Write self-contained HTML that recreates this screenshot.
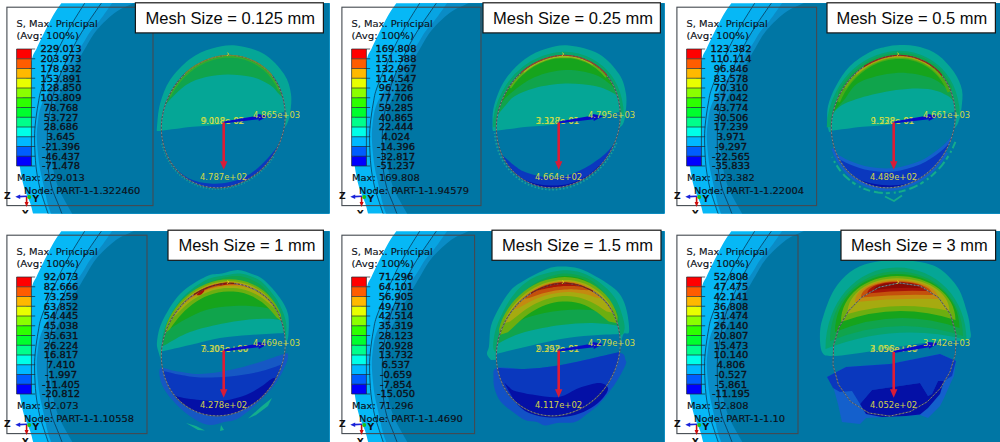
<!DOCTYPE html><html><head><meta charset="utf-8"><title>Mesh size study</title>
<style>html,body{margin:0;padding:0;background:#fff}svg{display:block}</style></head><body>
<svg width="1000" height="442" viewBox="0 0 1000 442">
<rect width="1000" height="442" fill="#fff"/>
<defs><clipPath id="cp"><rect x="0" y="3.2" width="329.45" height="210.4"/></clipPath><clipPath id="cp3"><rect x="0" y="3.2" width="331" height="210.4"/></clipPath><clipPath id="cpb"><rect x="0" y="3.2" width="329.45" height="213"/></clipPath><clipPath id="cpb3"><rect x="0" y="3.2" width="331" height="213"/></clipPath></defs>
<g transform="translate(0 0)">
<g clip-path="url(#cp)">
<path d="M63.5 -2.0 C63.1 -1.2 63.0 0.2 61.4 2.9 C59.8 5.6 57.0 8.8 54.0 14.0 C51.0 19.2 46.4 28.2 43.5 34.0 C40.6 39.8 38.2 45.2 36.4 49.0 C34.6 52.8 34.2 51.8 32.5 57.0 C30.8 62.2 27.9 71.8 26.0 80.0 C24.1 88.2 22.5 97.7 21.3 106.0 C20.1 114.3 19.4 123.5 19.0 130.0 C18.6 136.5 18.5 138.9 18.6 145.0 C18.7 151.1 18.9 159.6 19.8 166.6 C20.7 173.6 22.3 181.0 24.0 187.0 C25.7 193.0 28.5 198.2 30.0 202.6 C31.5 207.0 32.2 210.8 33.0 213.4 C33.8 216.0 34.2 217.2 34.5 218.0 L334.6 218 L334.6 -2 Z" fill="#06B8F6"/>
<path d="M87.5 -2.0 C87.0 -1.2 87.7 -1.9 84.8 2.9 C81.9 7.7 74.5 19.1 70.0 27.0 C65.5 34.9 62.6 40.2 58.0 50.0 C53.4 59.8 45.9 77.2 42.6 86.0 C39.3 94.8 39.5 96.5 38.3 103.0 C37.1 109.5 35.8 118.5 35.2 125.0 C34.6 131.5 34.5 135.1 34.6 142.0 C34.7 148.9 35.2 159.1 36.0 166.6 C36.8 174.1 38.2 181.0 39.6 187.0 C41.0 193.0 43.0 198.2 44.4 202.6 C45.8 207.0 47.1 210.8 48.0 213.4 C48.9 216.0 49.2 217.2 49.5 218.0 L334.6 218 L334.6 -2 Z" fill="#06B0F0"/>
<path d="M104.6 -2.0 C104.1 -1.2 104.8 -1.9 101.5 2.9 C98.2 7.7 89.8 19.5 85.0 27.0 C80.2 34.5 77.3 39.2 72.8 48.0 C68.3 56.8 61.5 70.8 58.0 80.0 C54.5 89.2 53.2 95.5 51.5 103.0 C49.8 110.5 48.7 118.5 48.0 125.0 C47.3 131.5 47.3 135.1 47.3 142.0 C47.3 148.9 47.3 159.1 48.0 166.6 C48.7 174.1 50.0 181.0 51.6 187.0 C53.2 193.0 55.9 198.2 57.6 202.6 C59.3 207.0 60.8 210.8 61.8 213.4 C62.8 216.0 63.2 217.2 63.5 218.0 L334.6 218 L334.6 -2 Z" fill="#08A4E2"/>
<path d="M116.0 -2.0 C115.3 -1.1 114.7 -0.5 112.0 3.2 C109.3 6.9 103.7 15.2 100.0 20.0 C96.3 24.8 93.0 27.8 90.0 32.0 C87.0 36.2 85.8 39.3 82.0 45.0 C78.2 50.7 72.2 58.8 67.0 66.0 C61.8 73.2 55.3 81.3 51.0 88.0 C46.7 94.7 43.2 99.8 41.0 106.0 C38.8 112.2 38.2 119.0 37.5 125.0 C36.8 131.0 36.6 135.1 37.0 142.0 C37.4 148.9 38.4 159.1 39.6 166.6 C40.8 174.1 42.6 180.6 44.0 187.0 C45.4 193.4 46.8 200.6 48.0 205.0 C49.2 209.4 50.2 211.2 51.0 213.4 C51.8 215.6 52.2 217.2 52.5 218.0 L334.6 218 L334.6 -2 Z" fill="#0A8CC6"/>
<path d="M140.0 -2.0 C139.0 -1.2 138.0 0.6 134.0 2.9 C130.0 5.2 122.2 7.5 116.0 12.0 C109.8 16.5 101.9 24.0 96.8 30.0 C91.7 36.0 90.4 39.7 85.4 48.0 C80.4 56.3 72.2 70.3 67.0 80.0 C61.8 89.7 56.8 98.5 54.0 106.0 C51.2 113.5 51.2 119.0 50.5 125.0 C49.8 131.0 49.6 135.1 50.0 142.0 C50.4 148.9 51.5 159.1 52.8 166.6 C54.1 174.1 55.6 180.6 58.0 187.0 C60.4 193.4 64.9 200.6 67.2 205.0 C69.5 209.4 70.8 211.2 72.0 213.4 C73.2 215.6 74.1 217.2 74.5 218.0 L334.6 218 L334.6 -2 Z" fill="#0076A4"/>
<path d="M87.5 -2.0 C87.0 -1.2 87.7 -1.9 84.8 2.9 C81.9 7.7 74.5 19.1 70.0 27.0 C65.5 34.9 62.6 40.2 58.0 50.0 C53.4 59.8 45.9 77.2 42.6 86.0 C39.3 94.8 39.5 96.5 38.3 103.0 C37.1 109.5 35.8 118.5 35.2 125.0 C34.6 131.5 34.5 135.1 34.6 142.0 C34.7 148.9 35.2 159.1 36.0 166.6 C36.8 174.1 38.2 181.0 39.6 187.0 C41.0 193.0 43.0 198.2 44.4 202.6 C45.8 207.0 47.1 210.8 48.0 213.4 C48.9 216.0 49.2 217.2 49.5 218.0" fill="none" stroke="#0A2A44" stroke-width="0.7"/>
<path d="M104.6 -2.0 C104.1 -1.2 104.8 -1.9 101.5 2.9 C98.2 7.7 89.8 19.5 85.0 27.0 C80.2 34.5 77.3 39.2 72.8 48.0 C68.3 56.8 61.5 70.8 58.0 80.0 C54.5 89.2 53.2 95.5 51.5 103.0 C49.8 110.5 48.7 118.5 48.0 125.0 C47.3 131.5 47.3 135.1 47.3 142.0 C47.3 148.9 47.3 159.1 48.0 166.6 C48.7 174.1 50.0 181.0 51.6 187.0 C53.2 193.0 55.9 198.2 57.6 202.6 C59.3 207.0 60.8 210.8 61.8 213.4 C62.8 216.0 63.2 217.2 63.5 218.0" fill="none" stroke="#0A2A44" stroke-width="0.7"/>
<path d="M157.0 131.0 C157.0 130.3 156.5 131.5 157.0 127.0 C157.5 122.5 157.8 111.8 160.0 104.0 C162.2 96.2 165.0 87.5 170.0 80.0 C175.0 72.5 183.0 64.2 190.0 59.0 C197.0 53.8 204.3 50.7 212.0 48.5 C219.7 46.3 227.3 44.7 236.0 45.6 C244.7 46.5 256.0 49.3 264.0 54.0 C272.0 58.7 279.5 67.3 284.0 74.0 C288.5 80.7 290.0 87.3 291.0 94.0 C292.0 100.7 290.7 109.0 290.0 114.0 C289.3 119.0 288.0 121.7 287.0 124.0 C286.0 126.3 284.5 127.3 284.0 128.0 L270 125 L175 131Z" fill="#05A696"/>
<clipPath id="e1"><ellipse cx="223.3" cy="121.6" rx="67.8" ry="60.1" transform="rotate(-61.9 223.3 121.6)" fill="none" stroke="#8a8478" stroke-width="0.90" /></clipPath><g clip-path="url(#e1)">
<rect x="150" y="40" width="150" height="160" fill="#0076A4"/>
<path d="M150.0 132.0 C154.2 131.5 168.3 129.8 175.0 129.0 C181.7 128.2 182.5 127.8 190.0 127.0 C197.5 126.2 210.0 125.8 220.0 124.5 C230.0 123.2 241.7 120.6 250.0 119.0 C258.3 117.4 262.5 116.6 270.0 115.0 C277.5 113.4 290.8 110.4 295.0 109.5 L295.0 30.0 L150.0 30.0 Z" fill="#05A696"/>
<path d="M155.0 118.0 C157.2 115.3 162.8 107.5 168.0 102.0 C173.2 96.5 179.7 89.2 186.0 85.0 C192.3 80.8 199.0 78.8 206.0 77.0 C213.0 75.2 220.3 74.4 228.0 74.4 C235.7 74.4 245.0 75.2 252.0 77.0 C259.0 78.8 265.3 82.0 270.0 85.0 C274.7 88.0 276.3 91.5 280.0 95.0 C283.7 98.5 290.0 104.2 292.0 106.0 L292.0 30.0 L155.0 30.0 Z" fill="#10A44C"/>
<path d="M172.0 166.0 C175.0 168.2 183.7 176.1 190.0 179.0 C196.3 181.9 203.3 183.0 210.0 183.5 C216.7 184.0 223.3 183.6 230.0 182.0 C236.7 180.4 243.7 178.0 250.0 174.0 C256.3 170.0 262.3 164.0 268.0 158.0 C273.7 152.0 281.3 141.3 284.0 138.0 L284.0 215.0 L172.0 215.0 Z" fill="#0A38BE"/>
</g>
<path d="M273.7 156.9 L269.9 162.1 L265.7 167.0 L261.0 171.6 L255.9 175.8 L250.3 179.6 L244.4 182.8 L238.0 185.5 L231.4 187.5 L224.5 188.7 L217.4 189.2 L210.2 188.8 L203.1 187.5 L196.3 185.3 L189.7 182.2 L183.6 178.2 L178.1 173.5 L173.3 168.2 L169.3 162.3 L165.9 156.1 L163.4 149.5 L161.6 142.9" fill="none" stroke="#22A890" stroke-width="1.50" stroke-dasharray="1.2 1.8" opacity="0.8"/>
<path d="M169.6 96.6 L172.5 91.1 L175.9 85.9 L179.7 80.9 L183.9 76.3 L188.6 72.0 L193.6 68.1 L199.1 64.6 L205.0 61.7 L211.2 59.3 L217.7 57.6 L224.4 56.6 L231.3 56.5 L238.2 57.1 L245.0 58.7 L251.5 61.1 L257.7 64.4 L263.4 68.4 L268.4 73.2 L272.8 78.5 L276.5 84.3 L279.5 90.5" fill="none" stroke="#34AC2C" stroke-width="2.40" />
<ellipse cx="223.3" cy="121.6" rx="67.8" ry="60.1" transform="rotate(-61.9 223.3 121.6)" fill="none" stroke="#4c525a" stroke-width="1.00" />
<ellipse cx="223.3" cy="121.6" rx="67.8" ry="60.1" transform="rotate(-61.9 223.3 121.6)" fill="none" stroke="#d8d8d4" stroke-width="0.70" stroke-dasharray="1.4 2.2" stroke-opacity="0.6"/>
<clipPath id="t1"><rect x="185.0" y="40" width="87.0" height="45"/></clipPath>
<g clip-path="url(#t1)"><ellipse cx="223.3" cy="121.6" rx="67.8" ry="60.1" transform="rotate(-61.9 223.3 121.6)" fill="none" stroke="#7a8a30" stroke-width="1.20" /></g>
<g font-family="'DejaVu Sans', sans-serif" font-size="8.45" fill="#E4E23C" fill-opacity="0.92">
<text x="200.6" y="124.1">9.008e-02</text>
<text x="201.4" y="124.1" opacity="0.75">9.118e-02</text>
</g>
<path d="M223.8 123.4 L258.6 119.3 L258.0 115.6 L223.6 121.6 Z" fill="#0a0cc6"/>
<path d="M268.2 116.0 L258.8 120.9 L257.8 114.0 Z" fill="#0a0cc6"/>
<path d="M223.7 122.5 V162.8" stroke="#e01c34" stroke-width="2.6"/>
<path d="M223.7 169.8 L220.0 161.3 L227.4 161.3 Z" fill="#d81c38"/>
<path d="M227.6 52.6 q2.2 1.4 -0.4 3.2" stroke="#ecd61c" fill="none" stroke-width="0.9"/>
<g font-family="'DejaVu Sans', sans-serif" font-size="8.45" fill="#E4E23C" fill-opacity="0.92">
<text x="200.0" y="180.0">4.787e+02</text>
<text x="253.0" y="117.5">4.865e+03</text>
</g>
<g transform="scale(1.125 1)" font-family="'DejaVu Sans', 'Liberation Sans', sans-serif" font-size="8.8" fill="#0c1018" stroke="#0c1018" stroke-width="0.32">
<text x="14.58" y="26.8" stroke-width="0.12">S, Max. Principal</text>
<text x="14.58" y="38.8" stroke-width="0.12" textLength="55.64" lengthAdjust="spacingAndGlyphs">(Avg: 100%)</text>
<text x="54.22" y="52.30" text-anchor="middle">229.013</text>
<text x="54.22" y="62.05" text-anchor="middle">203.973</text>
<text x="54.22" y="71.80" text-anchor="middle">178.932</text>
<text x="54.22" y="81.55" text-anchor="middle">153.891</text>
<text x="54.22" y="91.30" text-anchor="middle">128.850</text>
<text x="54.22" y="101.05" text-anchor="middle">103.809</text>
<text x="54.22" y="110.80" text-anchor="middle">78.768</text>
<text x="54.22" y="120.55" text-anchor="middle">53.727</text>
<text x="54.22" y="130.30" text-anchor="middle">28.686</text>
<text x="54.22" y="140.05" text-anchor="middle">3.645</text>
<text x="54.22" y="149.80" text-anchor="middle">-21.396</text>
<text x="54.22" y="159.55" text-anchor="middle">-46.437</text>
<text x="54.22" y="169.30" text-anchor="middle">-71.478</text>
<text x="15.11" y="181.2" stroke-width="0.15">Max: 229.013</text>
<text x="21.33" y="193.6" stroke-width="0.15">Node: PART-1-1.322460</text>
</g>
<rect x="16.6" y="49.00" width="14.8" height="9.75" fill="#FF0000"/>
<rect x="16.6" y="58.75" width="14.8" height="9.75" fill="#FF5D00"/>
<rect x="16.6" y="68.50" width="14.8" height="9.75" fill="#FFB900"/>
<rect x="16.6" y="78.25" width="14.8" height="9.75" fill="#E8FF00"/>
<rect x="16.6" y="88.00" width="14.8" height="9.75" fill="#8BFF00"/>
<rect x="16.6" y="97.75" width="14.8" height="9.75" fill="#2EFF00"/>
<rect x="16.6" y="107.50" width="14.8" height="9.75" fill="#00FF2E"/>
<rect x="16.6" y="117.25" width="14.8" height="9.75" fill="#00FF8B"/>
<rect x="16.6" y="127.00" width="14.8" height="9.75" fill="#00FFE8"/>
<rect x="16.6" y="136.75" width="14.8" height="9.75" fill="#00B9FF"/>
<rect x="16.6" y="146.50" width="14.8" height="9.75" fill="#005DFF"/>
<rect x="16.6" y="156.25" width="14.8" height="9.75" fill="#0000FF"/>
<path d="M16.6 49.00 H35.2" stroke="#202830" stroke-width="0.7"/>
<path d="M16.6 58.75 H35.2" stroke="#202830" stroke-width="0.7"/>
<path d="M16.6 68.50 H35.2" stroke="#202830" stroke-width="0.7"/>
<path d="M16.6 78.25 H35.2" stroke="#202830" stroke-width="0.7"/>
<path d="M16.6 88.00 H35.2" stroke="#202830" stroke-width="0.7"/>
<path d="M16.6 97.75 H35.2" stroke="#202830" stroke-width="0.7"/>
<path d="M16.6 107.50 H35.2" stroke="#202830" stroke-width="0.7"/>
<path d="M16.6 117.25 H35.2" stroke="#202830" stroke-width="0.7"/>
<path d="M16.6 127.00 H35.2" stroke="#202830" stroke-width="0.7"/>
<path d="M16.6 136.75 H35.2" stroke="#202830" stroke-width="0.7"/>
<path d="M16.6 146.50 H35.2" stroke="#202830" stroke-width="0.7"/>
<path d="M16.6 156.25 H35.2" stroke="#202830" stroke-width="0.7"/>
<path d="M16.6 166.00 H35.2" stroke="#202830" stroke-width="0.7"/>
<path d="M16.6 49V166M31.4 49V166" stroke="#202830" stroke-width="0.7" fill="none"/>
<rect x="6.9" y="7.2" width="146.1" height="198.4" fill="none" stroke="#444a50" stroke-width="1.1"/>
<g font-family="'DejaVu Sans', sans-serif" font-weight="bold" font-size="9.2" fill="#111">
<text x="4" y="199.4">Z</text><text x="32.4" y="201.9">Y</text><text x="21.8" y="217">X</text></g>
<path d="M27 196.2 L19 196.6" stroke="#1a22d8" stroke-width="1.6"/>
<path d="M15.3 196.8 L20.2 194.4 L20.2 199Z" fill="#1a22d8"/>
<path d="M26.6 197 L26.6 203" stroke="#cc0c0c" stroke-width="1.6"/>
<path d="M26.6 207 L24.6 202 L28.6 202Z" fill="#cc0c0c"/>
<circle cx="29.2" cy="197" r="2" fill="#18c018"/>
</g>
<rect x="135.4" y="2.8" width="188.0" height="30.1" fill="#fff" stroke="#161616" stroke-width="1.2"/>
<text x="145.6" y="24.0" font-family="'Liberation Sans', sans-serif" font-size="17.3" fill="#0a0a0a" textLength="169.4" lengthAdjust="spacingAndGlyphs">Mesh Size = 0.125 mm</text>
</g>
<g transform="translate(335 0)">
<g clip-path="url(#cp)">
<path d="M63.5 -2.0 C63.1 -1.2 63.0 0.2 61.4 2.9 C59.8 5.6 57.0 8.8 54.0 14.0 C51.0 19.2 46.4 28.2 43.5 34.0 C40.6 39.8 38.2 45.2 36.4 49.0 C34.6 52.8 34.2 51.8 32.5 57.0 C30.8 62.2 27.9 71.8 26.0 80.0 C24.1 88.2 22.5 97.7 21.3 106.0 C20.1 114.3 19.4 123.5 19.0 130.0 C18.6 136.5 18.5 138.9 18.6 145.0 C18.7 151.1 18.9 159.6 19.8 166.6 C20.7 173.6 22.3 181.0 24.0 187.0 C25.7 193.0 28.5 198.2 30.0 202.6 C31.5 207.0 32.2 210.8 33.0 213.4 C33.8 216.0 34.2 217.2 34.5 218.0 L334.6 218 L334.6 -2 Z" fill="#06B8F6"/>
<path d="M87.5 -2.0 C87.0 -1.2 87.7 -1.9 84.8 2.9 C81.9 7.7 74.5 19.1 70.0 27.0 C65.5 34.9 62.6 40.2 58.0 50.0 C53.4 59.8 45.9 77.2 42.6 86.0 C39.3 94.8 39.5 96.5 38.3 103.0 C37.1 109.5 35.8 118.5 35.2 125.0 C34.6 131.5 34.5 135.1 34.6 142.0 C34.7 148.9 35.2 159.1 36.0 166.6 C36.8 174.1 38.2 181.0 39.6 187.0 C41.0 193.0 43.0 198.2 44.4 202.6 C45.8 207.0 47.1 210.8 48.0 213.4 C48.9 216.0 49.2 217.2 49.5 218.0 L334.6 218 L334.6 -2 Z" fill="#06B0F0"/>
<path d="M104.6 -2.0 C104.1 -1.2 104.8 -1.9 101.5 2.9 C98.2 7.7 89.8 19.5 85.0 27.0 C80.2 34.5 77.3 39.2 72.8 48.0 C68.3 56.8 61.5 70.8 58.0 80.0 C54.5 89.2 53.2 95.5 51.5 103.0 C49.8 110.5 48.7 118.5 48.0 125.0 C47.3 131.5 47.3 135.1 47.3 142.0 C47.3 148.9 47.3 159.1 48.0 166.6 C48.7 174.1 50.0 181.0 51.6 187.0 C53.2 193.0 55.9 198.2 57.6 202.6 C59.3 207.0 60.8 210.8 61.8 213.4 C62.8 216.0 63.2 217.2 63.5 218.0 L334.6 218 L334.6 -2 Z" fill="#08A4E2"/>
<path d="M116.0 -2.0 C115.3 -1.1 114.7 -0.5 112.0 3.2 C109.3 6.9 103.7 15.2 100.0 20.0 C96.3 24.8 93.0 27.8 90.0 32.0 C87.0 36.2 85.8 39.3 82.0 45.0 C78.2 50.7 72.2 58.8 67.0 66.0 C61.8 73.2 55.3 81.3 51.0 88.0 C46.7 94.7 43.2 99.8 41.0 106.0 C38.8 112.2 38.2 119.0 37.5 125.0 C36.8 131.0 36.6 135.1 37.0 142.0 C37.4 148.9 38.4 159.1 39.6 166.6 C40.8 174.1 42.6 180.6 44.0 187.0 C45.4 193.4 46.8 200.6 48.0 205.0 C49.2 209.4 50.2 211.2 51.0 213.4 C51.8 215.6 52.2 217.2 52.5 218.0 L334.6 218 L334.6 -2 Z" fill="#0A8CC6"/>
<path d="M140.0 -2.0 C139.0 -1.2 138.0 0.6 134.0 2.9 C130.0 5.2 122.2 7.5 116.0 12.0 C109.8 16.5 101.9 24.0 96.8 30.0 C91.7 36.0 90.4 39.7 85.4 48.0 C80.4 56.3 72.2 70.3 67.0 80.0 C61.8 89.7 56.8 98.5 54.0 106.0 C51.2 113.5 51.2 119.0 50.5 125.0 C49.8 131.0 49.6 135.1 50.0 142.0 C50.4 148.9 51.5 159.1 52.8 166.6 C54.1 174.1 55.6 180.6 58.0 187.0 C60.4 193.4 64.9 200.6 67.2 205.0 C69.5 209.4 70.8 211.2 72.0 213.4 C73.2 215.6 74.1 217.2 74.5 218.0 L334.6 218 L334.6 -2 Z" fill="#0076A4"/>
<path d="M87.5 -2.0 C87.0 -1.2 87.7 -1.9 84.8 2.9 C81.9 7.7 74.5 19.1 70.0 27.0 C65.5 34.9 62.6 40.2 58.0 50.0 C53.4 59.8 45.9 77.2 42.6 86.0 C39.3 94.8 39.5 96.5 38.3 103.0 C37.1 109.5 35.8 118.5 35.2 125.0 C34.6 131.5 34.5 135.1 34.6 142.0 C34.7 148.9 35.2 159.1 36.0 166.6 C36.8 174.1 38.2 181.0 39.6 187.0 C41.0 193.0 43.0 198.2 44.4 202.6 C45.8 207.0 47.1 210.8 48.0 213.4 C48.9 216.0 49.2 217.2 49.5 218.0" fill="none" stroke="#0A2A44" stroke-width="0.7"/>
<path d="M104.6 -2.0 C104.1 -1.2 104.8 -1.9 101.5 2.9 C98.2 7.7 89.8 19.5 85.0 27.0 C80.2 34.5 77.3 39.2 72.8 48.0 C68.3 56.8 61.5 70.8 58.0 80.0 C54.5 89.2 53.2 95.5 51.5 103.0 C49.8 110.5 48.7 118.5 48.0 125.0 C47.3 131.5 47.3 135.1 47.3 142.0 C47.3 148.9 47.3 159.1 48.0 166.6 C48.7 174.1 50.0 181.0 51.6 187.0 C53.2 193.0 55.9 198.2 57.6 202.6 C59.3 207.0 60.8 210.8 61.8 213.4 C62.8 216.0 63.2 217.2 63.5 218.0" fill="none" stroke="#0A2A44" stroke-width="0.7"/>
<path d="M158.0 131.0 C157.9 130.2 157.3 130.2 157.5 126.0 C157.7 121.8 156.9 113.7 159.0 106.0 C161.1 98.3 164.8 87.8 170.0 80.0 C175.2 72.2 183.0 64.2 190.0 59.0 C197.0 53.8 204.7 50.7 212.0 48.5 C219.3 46.3 225.3 44.7 234.0 45.6 C242.7 46.5 255.7 49.3 264.0 54.0 C272.3 58.7 279.5 67.3 284.0 74.0 C288.5 80.7 289.9 87.3 291.0 94.0 C292.1 100.7 291.0 109.0 290.5 114.0 C290.0 119.0 289.1 121.7 288.0 124.0 C286.9 126.3 284.7 127.3 284.0 128.0 L270 125 L175 131Z" fill="#05A696"/>
<clipPath id="u2"><path d="M140 30 H310 V112 L150 128Z"/></clipPath>
<g clip-path="url(#u2)"><ellipse cx="223.3" cy="121.6" rx="67.8" ry="60.1" transform="rotate(-61.9 223.3 121.6)" fill="none" stroke="#08A46C" stroke-width="7.00" /></g>
<clipPath id="e2"><ellipse cx="223.3" cy="121.6" rx="67.8" ry="60.1" transform="rotate(-61.9 223.3 121.6)" fill="none" stroke="#8a8478" stroke-width="0.90" /></clipPath><g clip-path="url(#e2)">
<rect x="150" y="40" width="150" height="160" fill="#0076A4"/>
<path d="M150.0 132.0 C154.2 131.5 168.3 129.8 175.0 129.0 C181.7 128.2 182.5 127.8 190.0 127.0 C197.5 126.2 210.0 125.8 220.0 124.5 C230.0 123.2 241.7 120.6 250.0 119.0 C258.3 117.4 262.5 116.6 270.0 115.0 C277.5 113.4 290.8 110.4 295.0 109.5 L295.0 30.0 L150.0 30.0 Z" fill="#05A696"/>
<path d="M155.0 124.0 C157.5 121.0 165.8 110.7 170.0 106.0 C174.2 101.3 175.0 99.0 180.0 96.0 C185.0 93.0 191.7 90.1 200.0 88.0 C208.3 85.9 220.0 83.9 230.0 83.6 C240.0 83.3 251.7 84.3 260.0 86.0 C268.3 87.7 275.7 91.5 280.0 94.0 C284.3 96.5 283.7 98.3 286.0 101.0 C288.3 103.7 292.7 108.5 294.0 110.0 L294.0 30.0 L155.0 30.0 Z" fill="#10A44C"/>
<path d="M158.0 112.0 C161.0 108.8 169.0 98.8 176.0 93.0 C183.0 87.2 191.0 80.8 200.0 77.0 C209.0 73.2 220.3 70.5 230.0 70.0 C239.7 69.5 250.3 71.5 258.0 74.0 C265.7 76.5 270.3 80.3 276.0 85.0 C281.7 89.7 289.3 99.2 292.0 102.0 L292.0 30.0 L158.0 30.0 Z" fill="#16A41C"/>
<path d="M158.0 148.0 C159.5 149.2 163.3 152.0 167.0 155.0 C170.7 158.0 176.2 163.2 180.0 166.0 C183.8 168.8 185.0 170.2 190.0 172.0 C195.0 173.8 203.3 176.3 210.0 177.0 C216.7 177.7 223.3 177.5 230.0 176.0 C236.7 174.5 243.3 171.7 250.0 168.0 C256.7 164.3 264.7 158.7 270.0 154.0 C275.3 149.3 278.3 144.7 282.0 140.0 C285.7 135.3 290.3 128.3 292.0 126.0 L292.0 215.0 L158.0 215.0 Z" fill="#0A38BE"/>
<path d="M176.0 172.0 C179.2 173.7 188.5 179.8 195.0 182.0 C201.5 184.2 208.3 185.2 215.0 185.5 C221.7 185.8 228.8 185.1 235.0 183.5 C241.2 181.9 246.8 179.2 252.0 176.0 C257.2 172.8 263.7 166.0 266.0 164.0 L266.0 215.0 L176.0 215.0 Z" fill="#0410A6"/>
<path d="M174.0 87.1 L177.7 82.0 L181.8 77.1 L186.4 72.7 L191.4 68.6 L196.9 64.9 L202.7 61.7 L208.9 59.1 L215.4 57.1 L222.2 55.9 L229.1 55.4 L236.1 55.8 L243.0 57.1 L249.8 59.3 L256.2 62.3 L262.1 66.2 L267.5 70.8 L272.2 76.0" fill="none" stroke="#5CAE18" stroke-width="5.00" />
<path d="M188.0 71.3 L193.2 67.3 L198.8 63.8 L204.7 60.8 L211.0 58.4 L217.6 56.6 L224.5 55.7 L231.4 55.5 L238.4 56.1 L245.3 57.7 L251.9 60.2 L258.2 63.5" fill="none" stroke="#A0B81C" stroke-width="3.40" />
</g>
<path d="M281.6 142.8 L278.9 148.7 L275.8 154.4 L272.2 159.8 L268.2 165.0 L263.7 169.7 L258.8 174.2 L253.4 178.2 L247.6 181.7 L241.4 184.7 L234.8 187.1 L228.0 188.7 L220.9 189.6 L213.7 189.7 L206.5 188.8 L199.5 187.0 L192.7 184.4 L186.3 180.8 L180.5 176.4 L175.3 171.3 L170.8 165.7 L167.1 159.5 L164.1 153.1 L161.9 146.4 L160.4 139.6 L159.7 132.8" fill="none" stroke="#22AC94" stroke-width="1.70" stroke-dasharray="1.6 2" opacity="0.8"/>
<ellipse cx="223.3" cy="121.6" rx="67.8" ry="60.1" transform="rotate(-61.9 223.3 121.6)" fill="none" stroke="#4c525a" stroke-width="1.00" />
<ellipse cx="223.3" cy="121.6" rx="67.8" ry="60.1" transform="rotate(-61.9 223.3 121.6)" fill="none" stroke="#d8d8d4" stroke-width="0.70" stroke-dasharray="1.4 2.2" stroke-opacity="0.6"/>
<clipPath id="t2"><rect x="186.0" y="40" width="86.0" height="45"/></clipPath>
<g clip-path="url(#t2)"><ellipse cx="223.3" cy="121.6" rx="67.8" ry="60.1" transform="rotate(-61.9 223.3 121.6)" fill="none" stroke="#94402a" stroke-width="1.20" /></g>
<g font-family="'DejaVu Sans', sans-serif" font-size="8.45" fill="#E4E23C" fill-opacity="0.92">
<text x="200.6" y="124.1">3.328e-01</text>
<text x="201.4" y="124.1" opacity="0.75">2.117e-01</text>
</g>
<path d="M223.8 123.4 L258.6 119.3 L258.0 115.6 L223.6 121.6 Z" fill="#0a0cc6"/>
<path d="M268.2 116.0 L258.8 120.9 L257.8 114.0 Z" fill="#0a0cc6"/>
<path d="M223.7 122.5 V162.8" stroke="#e01c34" stroke-width="2.6"/>
<path d="M223.7 169.8 L220.0 161.3 L227.4 161.3 Z" fill="#d81c38"/>
<path d="M227.6 52.6 q2.2 1.4 -0.4 3.2" stroke="#ecd61c" fill="none" stroke-width="0.9"/>
<g font-family="'DejaVu Sans', sans-serif" font-size="8.45" fill="#E4E23C" fill-opacity="0.92">
<text x="200.0" y="180.0">4.664e+02</text>
<text x="253.0" y="117.5">4.795e+03</text>
</g>
<g transform="scale(1.125 1)" font-family="'DejaVu Sans', 'Liberation Sans', sans-serif" font-size="8.8" fill="#0c1018" stroke="#0c1018" stroke-width="0.32">
<text x="14.58" y="26.8" stroke-width="0.12">S, Max. Principal</text>
<text x="14.58" y="38.8" stroke-width="0.12" textLength="55.64" lengthAdjust="spacingAndGlyphs">(Avg: 100%)</text>
<text x="54.22" y="52.30" text-anchor="middle">169.808</text>
<text x="54.22" y="62.05" text-anchor="middle">151.388</text>
<text x="54.22" y="71.80" text-anchor="middle">132.967</text>
<text x="54.22" y="81.55" text-anchor="middle">114.547</text>
<text x="54.22" y="91.30" text-anchor="middle">96.126</text>
<text x="54.22" y="101.05" text-anchor="middle">77.706</text>
<text x="54.22" y="110.80" text-anchor="middle">59.285</text>
<text x="54.22" y="120.55" text-anchor="middle">40.865</text>
<text x="54.22" y="130.30" text-anchor="middle">22.444</text>
<text x="54.22" y="140.05" text-anchor="middle">4.024</text>
<text x="54.22" y="149.80" text-anchor="middle">-14.396</text>
<text x="54.22" y="159.55" text-anchor="middle">-32.817</text>
<text x="54.22" y="169.30" text-anchor="middle">-51.237</text>
<text x="15.11" y="181.2" stroke-width="0.15">Max: 169.808</text>
<text x="21.33" y="193.6" stroke-width="0.15">Node: PART-1-1.94579</text>
</g>
<rect x="16.6" y="49.00" width="14.8" height="9.75" fill="#FF0000"/>
<rect x="16.6" y="58.75" width="14.8" height="9.75" fill="#FF5D00"/>
<rect x="16.6" y="68.50" width="14.8" height="9.75" fill="#FFB900"/>
<rect x="16.6" y="78.25" width="14.8" height="9.75" fill="#E8FF00"/>
<rect x="16.6" y="88.00" width="14.8" height="9.75" fill="#8BFF00"/>
<rect x="16.6" y="97.75" width="14.8" height="9.75" fill="#2EFF00"/>
<rect x="16.6" y="107.50" width="14.8" height="9.75" fill="#00FF2E"/>
<rect x="16.6" y="117.25" width="14.8" height="9.75" fill="#00FF8B"/>
<rect x="16.6" y="127.00" width="14.8" height="9.75" fill="#00FFE8"/>
<rect x="16.6" y="136.75" width="14.8" height="9.75" fill="#00B9FF"/>
<rect x="16.6" y="146.50" width="14.8" height="9.75" fill="#005DFF"/>
<rect x="16.6" y="156.25" width="14.8" height="9.75" fill="#0000FF"/>
<path d="M16.6 49.00 H35.2" stroke="#202830" stroke-width="0.7"/>
<path d="M16.6 58.75 H35.2" stroke="#202830" stroke-width="0.7"/>
<path d="M16.6 68.50 H35.2" stroke="#202830" stroke-width="0.7"/>
<path d="M16.6 78.25 H35.2" stroke="#202830" stroke-width="0.7"/>
<path d="M16.6 88.00 H35.2" stroke="#202830" stroke-width="0.7"/>
<path d="M16.6 97.75 H35.2" stroke="#202830" stroke-width="0.7"/>
<path d="M16.6 107.50 H35.2" stroke="#202830" stroke-width="0.7"/>
<path d="M16.6 117.25 H35.2" stroke="#202830" stroke-width="0.7"/>
<path d="M16.6 127.00 H35.2" stroke="#202830" stroke-width="0.7"/>
<path d="M16.6 136.75 H35.2" stroke="#202830" stroke-width="0.7"/>
<path d="M16.6 146.50 H35.2" stroke="#202830" stroke-width="0.7"/>
<path d="M16.6 156.25 H35.2" stroke="#202830" stroke-width="0.7"/>
<path d="M16.6 166.00 H35.2" stroke="#202830" stroke-width="0.7"/>
<path d="M16.6 49V166M31.4 49V166" stroke="#202830" stroke-width="0.7" fill="none"/>
<rect x="6.9" y="7.2" width="139.1" height="198.4" fill="none" stroke="#444a50" stroke-width="1.1"/>
<g font-family="'DejaVu Sans', sans-serif" font-weight="bold" font-size="9.2" fill="#111">
<text x="4" y="199.4">Z</text><text x="32.4" y="201.9">Y</text><text x="21.8" y="217">X</text></g>
<path d="M27 196.2 L19 196.6" stroke="#1a22d8" stroke-width="1.6"/>
<path d="M15.3 196.8 L20.2 194.4 L20.2 199Z" fill="#1a22d8"/>
<path d="M26.6 197 L26.6 203" stroke="#cc0c0c" stroke-width="1.6"/>
<path d="M26.6 207 L24.6 202 L28.6 202Z" fill="#cc0c0c"/>
<circle cx="29.2" cy="197" r="2" fill="#18c018"/>
</g>
<rect x="148.0" y="2.8" width="177.4" height="30.1" fill="#fff" stroke="#161616" stroke-width="1.2"/>
<text x="158.0" y="24.0" font-family="'Liberation Sans', sans-serif" font-size="17.3" fill="#0a0a0a" textLength="160.0" lengthAdjust="spacingAndGlyphs">Mesh Size = 0.25 mm</text>
</g>
<g transform="translate(670 0)">
<g clip-path="url(#cp3)">
<path d="M63.5 -2.0 C63.1 -1.2 63.0 0.2 61.4 2.9 C59.8 5.6 57.0 8.8 54.0 14.0 C51.0 19.2 46.4 28.2 43.5 34.0 C40.6 39.8 38.2 45.2 36.4 49.0 C34.6 52.8 34.2 51.8 32.5 57.0 C30.8 62.2 27.9 71.8 26.0 80.0 C24.1 88.2 22.5 97.7 21.3 106.0 C20.1 114.3 19.4 123.5 19.0 130.0 C18.6 136.5 18.5 138.9 18.6 145.0 C18.7 151.1 18.9 159.6 19.8 166.6 C20.7 173.6 22.3 181.0 24.0 187.0 C25.7 193.0 28.5 198.2 30.0 202.6 C31.5 207.0 32.2 210.8 33.0 213.4 C33.8 216.0 34.2 217.2 34.5 218.0 L334.6 218 L334.6 -2 Z" fill="#06B8F6"/>
<path d="M87.5 -2.0 C87.0 -1.2 87.7 -1.9 84.8 2.9 C81.9 7.7 74.5 19.1 70.0 27.0 C65.5 34.9 62.6 40.2 58.0 50.0 C53.4 59.8 45.9 77.2 42.6 86.0 C39.3 94.8 39.5 96.5 38.3 103.0 C37.1 109.5 35.8 118.5 35.2 125.0 C34.6 131.5 34.5 135.1 34.6 142.0 C34.7 148.9 35.2 159.1 36.0 166.6 C36.8 174.1 38.2 181.0 39.6 187.0 C41.0 193.0 43.0 198.2 44.4 202.6 C45.8 207.0 47.1 210.8 48.0 213.4 C48.9 216.0 49.2 217.2 49.5 218.0 L334.6 218 L334.6 -2 Z" fill="#06B0F0"/>
<path d="M104.6 -2.0 C104.1 -1.2 104.8 -1.9 101.5 2.9 C98.2 7.7 89.8 19.5 85.0 27.0 C80.2 34.5 77.3 39.2 72.8 48.0 C68.3 56.8 61.5 70.8 58.0 80.0 C54.5 89.2 53.2 95.5 51.5 103.0 C49.8 110.5 48.7 118.5 48.0 125.0 C47.3 131.5 47.3 135.1 47.3 142.0 C47.3 148.9 47.3 159.1 48.0 166.6 C48.7 174.1 50.0 181.0 51.6 187.0 C53.2 193.0 55.9 198.2 57.6 202.6 C59.3 207.0 60.8 210.8 61.8 213.4 C62.8 216.0 63.2 217.2 63.5 218.0 L334.6 218 L334.6 -2 Z" fill="#08A4E2"/>
<path d="M116.0 -2.0 C115.3 -1.1 114.7 -0.5 112.0 3.2 C109.3 6.9 103.7 15.2 100.0 20.0 C96.3 24.8 93.0 27.8 90.0 32.0 C87.0 36.2 85.8 39.3 82.0 45.0 C78.2 50.7 72.2 58.8 67.0 66.0 C61.8 73.2 55.3 81.3 51.0 88.0 C46.7 94.7 43.2 99.8 41.0 106.0 C38.8 112.2 38.2 119.0 37.5 125.0 C36.8 131.0 36.6 135.1 37.0 142.0 C37.4 148.9 38.4 159.1 39.6 166.6 C40.8 174.1 42.6 180.6 44.0 187.0 C45.4 193.4 46.8 200.6 48.0 205.0 C49.2 209.4 50.2 211.2 51.0 213.4 C51.8 215.6 52.2 217.2 52.5 218.0 L334.6 218 L334.6 -2 Z" fill="#0A8CC6"/>
<path d="M140.0 -2.0 C139.0 -1.2 138.0 0.6 134.0 2.9 C130.0 5.2 122.2 7.5 116.0 12.0 C109.8 16.5 101.9 24.0 96.8 30.0 C91.7 36.0 90.4 39.7 85.4 48.0 C80.4 56.3 72.2 70.3 67.0 80.0 C61.8 89.7 56.8 98.5 54.0 106.0 C51.2 113.5 51.2 119.0 50.5 125.0 C49.8 131.0 49.6 135.1 50.0 142.0 C50.4 148.9 51.5 159.1 52.8 166.6 C54.1 174.1 55.6 180.6 58.0 187.0 C60.4 193.4 64.9 200.6 67.2 205.0 C69.5 209.4 70.8 211.2 72.0 213.4 C73.2 215.6 74.1 217.2 74.5 218.0 L334.6 218 L334.6 -2 Z" fill="#0076A4"/>
<path d="M87.5 -2.0 C87.0 -1.2 87.7 -1.9 84.8 2.9 C81.9 7.7 74.5 19.1 70.0 27.0 C65.5 34.9 62.6 40.2 58.0 50.0 C53.4 59.8 45.9 77.2 42.6 86.0 C39.3 94.8 39.5 96.5 38.3 103.0 C37.1 109.5 35.8 118.5 35.2 125.0 C34.6 131.5 34.5 135.1 34.6 142.0 C34.7 148.9 35.2 159.1 36.0 166.6 C36.8 174.1 38.2 181.0 39.6 187.0 C41.0 193.0 43.0 198.2 44.4 202.6 C45.8 207.0 47.1 210.8 48.0 213.4 C48.9 216.0 49.2 217.2 49.5 218.0" fill="none" stroke="#0A2A44" stroke-width="0.7"/>
<path d="M104.6 -2.0 C104.1 -1.2 104.8 -1.9 101.5 2.9 C98.2 7.7 89.8 19.5 85.0 27.0 C80.2 34.5 77.3 39.2 72.8 48.0 C68.3 56.8 61.5 70.8 58.0 80.0 C54.5 89.2 53.2 95.5 51.5 103.0 C49.8 110.5 48.7 118.5 48.0 125.0 C47.3 131.5 47.3 135.1 47.3 142.0 C47.3 148.9 47.3 159.1 48.0 166.6 C48.7 174.1 50.0 181.0 51.6 187.0 C53.2 193.0 55.9 198.2 57.6 202.6 C59.3 207.0 60.8 210.8 61.8 213.4 C62.8 216.0 63.2 217.2 63.5 218.0" fill="none" stroke="#0A2A44" stroke-width="0.7"/>
<path d="M159.0 132.0 C158.8 130.7 157.7 128.3 157.5 124.0 C157.3 119.7 156.6 112.3 158.0 106.0 C159.4 99.7 162.3 92.7 166.0 86.0 C169.7 79.3 174.3 71.7 180.0 66.0 C185.7 60.3 194.2 55.2 200.0 52.0 C205.8 48.8 210.0 48.2 215.0 47.0 C220.0 45.8 224.2 45.0 230.0 45.0 C235.8 45.0 243.7 45.3 250.0 47.0 C256.3 48.7 262.3 50.8 268.0 55.0 C273.7 59.2 280.0 66.2 284.0 72.0 C288.0 77.8 290.8 84.0 292.0 90.0 C293.2 96.0 292.1 102.7 291.5 108.0 C290.9 113.3 289.6 118.7 288.5 122.0 C287.4 125.3 285.6 127.0 285.0 128.0 L270 125 L175 131Z" fill="#05A696"/>
<clipPath id="u3"><path d="M140 30 H310 V112 L150 128Z"/></clipPath>
<g clip-path="url(#u3)"><ellipse cx="223.3" cy="121.6" rx="67.8" ry="60.1" transform="rotate(-61.9 223.3 121.6)" fill="none" stroke="#08A46C" stroke-width="9.00" /></g>
<clipPath id="u3b"><path d="M168 30 H282 V90 L168 100Z"/></clipPath>
<g clip-path="url(#u3b)"><ellipse cx="223.3" cy="121.6" rx="67.8" ry="60.1" transform="rotate(-61.9 223.3 121.6)" fill="none" stroke="#10A44C" stroke-width="5.00" /></g>
<clipPath id="e3"><ellipse cx="223.3" cy="121.6" rx="67.8" ry="60.1" transform="rotate(-61.9 223.3 121.6)" fill="none" stroke="#8a8478" stroke-width="0.90" /></clipPath><g clip-path="url(#e3)">
<rect x="150" y="40" width="150" height="160" fill="#0076A4"/>
<path d="M150.0 132.0 C154.2 131.5 168.3 129.8 175.0 129.0 C181.7 128.2 182.5 127.8 190.0 127.0 C197.5 126.2 210.0 125.8 220.0 124.5 C230.0 123.2 241.7 120.6 250.0 119.0 C258.3 117.4 262.5 116.6 270.0 115.0 C277.5 113.4 290.8 110.4 295.0 109.5 L295.0 30.0 L150.0 30.0 Z" fill="#05A696"/>
<path d="M155.0 128.0 C157.2 124.7 162.2 113.0 168.0 108.0 C173.8 103.0 180.3 101.0 190.0 98.0 C199.7 95.0 214.7 91.5 226.0 90.0 C237.3 88.5 249.3 88.0 258.0 89.0 C266.7 90.0 273.3 93.3 278.0 96.0 C282.7 98.7 283.3 102.3 286.0 105.0 C288.7 107.7 292.7 110.8 294.0 112.0 L294.0 30.0 L155.0 30.0 Z" fill="#10A44C"/>
<path d="M158.0 118.0 C160.7 115.0 168.7 106.0 174.0 100.0 C179.3 94.0 181.3 86.5 190.0 82.0 C198.7 77.5 214.7 73.8 226.0 73.0 C237.3 72.2 250.0 74.8 258.0 77.0 C266.0 79.2 268.3 81.5 274.0 86.0 C279.7 90.5 289.0 101.0 292.0 104.0 L292.0 30.0 L158.0 30.0 Z" fill="#16A41C"/>
<path d="M166.7 101.0 L169.3 95.3 L172.3 89.7 L175.8 84.5 L179.7 79.5 L184.1 74.9 L188.9 70.6 L194.1 66.7 L199.7 63.2 L205.7 60.3 L212.1 58.0 L218.7 56.4 L225.6 55.6 L232.6 55.5 L239.6 56.3 L246.4 58.1 L253.0 60.7 L259.2 64.1 L264.9 68.4 L269.9 73.3 L274.3 78.8 L277.9 84.8 L280.8 91.0" fill="none" stroke="#48AA18" stroke-width="7.00" />
<path d="M174.0 87.1 L177.7 82.0 L181.8 77.1 L186.4 72.7 L191.4 68.6 L196.9 64.9 L202.7 61.7 L208.9 59.1 L215.4 57.1 L222.2 55.9 L229.1 55.4 L236.1 55.8 L243.0 57.1 L249.8 59.3 L256.2 62.3 L262.1 66.2 L267.5 70.8 L272.2 76.0" fill="none" stroke="#6CAE10" stroke-width="5.00" />
<path d="M185.6 73.4 L190.6 69.2 L195.9 65.5 L201.7 62.2 L207.8 59.5 L214.3 57.4 L221.0 56.1 L227.9 55.5 L234.9 55.7 L241.9 56.8 L248.7 58.8 L255.1 61.7 L261.2 65.5" fill="none" stroke="#A6AA10" stroke-width="3.60" />
<path d="M196.9 64.9 L202.7 61.7 L208.9 59.1 L215.4 57.1 L222.2 55.9 L229.1 55.4 L236.1 55.8 L243.0 57.1 L249.8 59.3 L256.2 62.3" fill="none" stroke="#C48A10" stroke-width="2.40" />
<path d="M156.0 144.0 C157.3 145.3 160.0 149.2 164.0 152.0 C168.0 154.8 174.0 158.5 180.0 161.0 C186.0 163.5 192.7 165.8 200.0 167.0 C207.3 168.2 215.7 169.0 224.0 168.0 C232.3 167.0 242.3 164.3 250.0 161.0 C257.7 157.7 264.7 152.2 270.0 148.0 C275.3 143.8 278.3 140.0 282.0 136.0 C285.7 132.0 290.3 126.0 292.0 124.0 L292.0 215.0 L156.0 215.0 Z" fill="#1460CC"/>
<path d="M156.0 147.0 C157.3 148.4 160.0 152.6 164.0 155.5 C168.0 158.4 174.0 162.0 180.0 164.5 C186.0 167.0 192.7 169.3 200.0 170.5 C207.3 171.7 215.7 172.5 224.0 171.5 C232.3 170.5 242.3 167.8 250.0 164.5 C257.7 161.2 264.7 156.1 270.0 152.0 C275.3 147.9 278.3 144.0 282.0 140.0 C285.7 136.0 290.3 130.0 292.0 128.0 L292.0 215.0 L156.0 215.0 Z" fill="#0A38BE"/>
<path d="M172.0 170.0 C175.0 171.7 183.3 177.5 190.0 180.0 C196.7 182.5 204.3 184.3 212.0 185.0 C219.7 185.7 229.0 185.5 236.0 184.0 C243.0 182.5 248.3 179.7 254.0 176.0 C259.7 172.3 267.3 164.3 270.0 162.0 L270.0 215.0 L172.0 215.0 Z" fill="#0410A6"/>
</g>
<path d="M276.4 152.3 L273.0 157.7 L269.1 162.9 L264.8 167.7 L260.1 172.2 L254.9 176.4 L249.3 180.0 L243.3 183.2 L236.9 185.7 L230.2 187.6 L223.3 188.8 L216.2 189.1 L209.1 188.5 L202.0 187.1 L195.2 184.7 L188.7 181.5 L182.8 177.4 L177.4 172.6 L172.7 167.2 L168.8 161.2 L165.6 154.9 L163.1 148.4" fill="none" stroke="#1460CC" stroke-width="3.50" />
<path d="M285.4 141.8 L282.7 148.1 L279.6 154.1 L276.0 159.9 L271.9 165.4 L267.4 170.5 L262.3 175.3 L256.8 179.7 L250.9 183.6 L244.5 186.9 L237.8 189.6 L230.7 191.6 L223.3 192.8 L215.8 193.2 L208.2 192.6 L200.7 191.1 L193.5 188.6 L186.6 185.1 L180.3 180.8 L174.6 175.7 L169.6 169.9 L165.4 163.6 L162.1 157.0" fill="none" stroke="#14AC8C" stroke-width="2.00" stroke-dasharray="7 3 2 4 4 3 9 4"/>
<path d="M215 196.5 L224 201 L232 195.5" stroke="#14AC8C" stroke-width="1.8" fill="none"/>
<ellipse cx="223.3" cy="121.6" rx="67.8" ry="60.1" transform="rotate(-61.9 223.3 121.6)" fill="none" stroke="#4c525a" stroke-width="1.00" />
<ellipse cx="223.3" cy="121.6" rx="67.8" ry="60.1" transform="rotate(-61.9 223.3 121.6)" fill="none" stroke="#d8d8d4" stroke-width="0.70" stroke-dasharray="1.4 2.2" stroke-opacity="0.6"/>
<clipPath id="t3"><rect x="194.0" y="40" width="78.0" height="45"/></clipPath>
<g clip-path="url(#t3)"><ellipse cx="223.3" cy="121.6" rx="67.8" ry="60.1" transform="rotate(-61.9 223.3 121.6)" fill="none" stroke="#8c2a1a" stroke-width="1.20" /></g>
<g font-family="'DejaVu Sans', sans-serif" font-size="8.45" fill="#E4E23C" fill-opacity="0.92">
<text x="200.6" y="124.1">9.538e-01</text>
<text x="201.4" y="124.1" opacity="0.75">1.228e-01</text>
</g>
<path d="M223.8 123.4 L258.6 119.3 L258.0 115.6 L223.6 121.6 Z" fill="#0a0cc6"/>
<path d="M268.2 116.0 L258.8 120.9 L257.8 114.0 Z" fill="#0a0cc6"/>
<path d="M223.7 122.5 V162.8" stroke="#e01c34" stroke-width="2.6"/>
<path d="M223.7 169.8 L220.0 161.3 L227.4 161.3 Z" fill="#d81c38"/>
<path d="M227.6 52.6 q2.2 1.4 -0.4 3.2" stroke="#ecd61c" fill="none" stroke-width="0.9"/>
<g font-family="'DejaVu Sans', sans-serif" font-size="8.45" fill="#E4E23C" fill-opacity="0.92">
<text x="200.0" y="180.0">4.489e+02</text>
<text x="253.0" y="117.5">4.661e+03</text>
</g>
<g transform="scale(1.125 1)" font-family="'DejaVu Sans', 'Liberation Sans', sans-serif" font-size="8.8" fill="#0c1018" stroke="#0c1018" stroke-width="0.32">
<text x="14.58" y="26.8" stroke-width="0.12">S, Max. Principal</text>
<text x="14.58" y="38.8" stroke-width="0.12" textLength="55.64" lengthAdjust="spacingAndGlyphs">(Avg: 100%)</text>
<text x="54.22" y="52.30" text-anchor="middle">123.382</text>
<text x="54.22" y="62.05" text-anchor="middle">110.114</text>
<text x="54.22" y="71.80" text-anchor="middle">96.846</text>
<text x="54.22" y="81.55" text-anchor="middle">83.578</text>
<text x="54.22" y="91.30" text-anchor="middle">70.310</text>
<text x="54.22" y="101.05" text-anchor="middle">57.042</text>
<text x="54.22" y="110.80" text-anchor="middle">43.774</text>
<text x="54.22" y="120.55" text-anchor="middle">30.506</text>
<text x="54.22" y="130.30" text-anchor="middle">17.239</text>
<text x="54.22" y="140.05" text-anchor="middle">3.971</text>
<text x="54.22" y="149.80" text-anchor="middle">-9.297</text>
<text x="54.22" y="159.55" text-anchor="middle">-22.565</text>
<text x="54.22" y="169.30" text-anchor="middle">-35.833</text>
<text x="15.11" y="181.2" stroke-width="0.15">Max: 123.382</text>
<text x="21.33" y="193.6" stroke-width="0.15">Node: PART-1-1.22004</text>
</g>
<rect x="16.6" y="49.00" width="14.8" height="9.75" fill="#FF0000"/>
<rect x="16.6" y="58.75" width="14.8" height="9.75" fill="#FF5D00"/>
<rect x="16.6" y="68.50" width="14.8" height="9.75" fill="#FFB900"/>
<rect x="16.6" y="78.25" width="14.8" height="9.75" fill="#E8FF00"/>
<rect x="16.6" y="88.00" width="14.8" height="9.75" fill="#8BFF00"/>
<rect x="16.6" y="97.75" width="14.8" height="9.75" fill="#2EFF00"/>
<rect x="16.6" y="107.50" width="14.8" height="9.75" fill="#00FF2E"/>
<rect x="16.6" y="117.25" width="14.8" height="9.75" fill="#00FF8B"/>
<rect x="16.6" y="127.00" width="14.8" height="9.75" fill="#00FFE8"/>
<rect x="16.6" y="136.75" width="14.8" height="9.75" fill="#00B9FF"/>
<rect x="16.6" y="146.50" width="14.8" height="9.75" fill="#005DFF"/>
<rect x="16.6" y="156.25" width="14.8" height="9.75" fill="#0000FF"/>
<path d="M16.6 49.00 H35.2" stroke="#202830" stroke-width="0.7"/>
<path d="M16.6 58.75 H35.2" stroke="#202830" stroke-width="0.7"/>
<path d="M16.6 68.50 H35.2" stroke="#202830" stroke-width="0.7"/>
<path d="M16.6 78.25 H35.2" stroke="#202830" stroke-width="0.7"/>
<path d="M16.6 88.00 H35.2" stroke="#202830" stroke-width="0.7"/>
<path d="M16.6 97.75 H35.2" stroke="#202830" stroke-width="0.7"/>
<path d="M16.6 107.50 H35.2" stroke="#202830" stroke-width="0.7"/>
<path d="M16.6 117.25 H35.2" stroke="#202830" stroke-width="0.7"/>
<path d="M16.6 127.00 H35.2" stroke="#202830" stroke-width="0.7"/>
<path d="M16.6 136.75 H35.2" stroke="#202830" stroke-width="0.7"/>
<path d="M16.6 146.50 H35.2" stroke="#202830" stroke-width="0.7"/>
<path d="M16.6 156.25 H35.2" stroke="#202830" stroke-width="0.7"/>
<path d="M16.6 166.00 H35.2" stroke="#202830" stroke-width="0.7"/>
<path d="M16.6 49V166M31.4 49V166" stroke="#202830" stroke-width="0.7" fill="none"/>
<rect x="6.9" y="7.2" width="139.7" height="198.4" fill="none" stroke="#444a50" stroke-width="1.1"/>
<g font-family="'DejaVu Sans', sans-serif" font-weight="bold" font-size="9.2" fill="#111">
<text x="4" y="199.4">Z</text><text x="32.4" y="201.9">Y</text><text x="21.8" y="217">X</text></g>
<path d="M27 196.2 L19 196.6" stroke="#1a22d8" stroke-width="1.6"/>
<path d="M15.3 196.8 L20.2 194.4 L20.2 199Z" fill="#1a22d8"/>
<path d="M26.6 197 L26.6 203" stroke="#cc0c0c" stroke-width="1.6"/>
<path d="M26.6 207 L24.6 202 L28.6 202Z" fill="#cc0c0c"/>
<circle cx="29.2" cy="197" r="2" fill="#18c018"/>
</g>
<rect x="157.0" y="2.8" width="168.4" height="30.1" fill="#fff" stroke="#161616" stroke-width="1.2"/>
<text x="166.4" y="24.0" font-family="'Liberation Sans', sans-serif" font-size="17.3" fill="#0a0a0a" textLength="150.8" lengthAdjust="spacingAndGlyphs">Mesh Size = 0.5 mm</text>
</g>
<g transform="translate(0 228)">
<g clip-path="url(#cpb)">
<path d="M63.5 -2.0 C63.1 -1.2 63.0 0.2 61.4 2.9 C59.8 5.6 57.0 8.8 54.0 14.0 C51.0 19.2 46.4 28.2 43.5 34.0 C40.6 39.8 38.2 45.2 36.4 49.0 C34.6 52.8 34.2 51.8 32.5 57.0 C30.8 62.2 27.9 71.8 26.0 80.0 C24.1 88.2 22.5 97.7 21.3 106.0 C20.1 114.3 19.4 123.5 19.0 130.0 C18.6 136.5 18.5 138.9 18.6 145.0 C18.7 151.1 18.9 159.6 19.8 166.6 C20.7 173.6 22.3 181.0 24.0 187.0 C25.7 193.0 28.5 198.2 30.0 202.6 C31.5 207.0 32.2 210.8 33.0 213.4 C33.8 216.0 34.2 217.2 34.5 218.0 L334.6 218 L334.6 -2 Z" fill="#06B8F6"/>
<path d="M87.5 -2.0 C87.0 -1.2 87.7 -1.9 84.8 2.9 C81.9 7.7 74.5 19.1 70.0 27.0 C65.5 34.9 62.6 40.2 58.0 50.0 C53.4 59.8 45.9 77.2 42.6 86.0 C39.3 94.8 39.5 96.5 38.3 103.0 C37.1 109.5 35.8 118.5 35.2 125.0 C34.6 131.5 34.5 135.1 34.6 142.0 C34.7 148.9 35.2 159.1 36.0 166.6 C36.8 174.1 38.2 181.0 39.6 187.0 C41.0 193.0 43.0 198.2 44.4 202.6 C45.8 207.0 47.1 210.8 48.0 213.4 C48.9 216.0 49.2 217.2 49.5 218.0 L334.6 218 L334.6 -2 Z" fill="#06B0F0"/>
<path d="M104.6 -2.0 C104.1 -1.2 104.8 -1.9 101.5 2.9 C98.2 7.7 89.8 19.5 85.0 27.0 C80.2 34.5 77.3 39.2 72.8 48.0 C68.3 56.8 61.5 70.8 58.0 80.0 C54.5 89.2 53.2 95.5 51.5 103.0 C49.8 110.5 48.7 118.5 48.0 125.0 C47.3 131.5 47.3 135.1 47.3 142.0 C47.3 148.9 47.3 159.1 48.0 166.6 C48.7 174.1 50.0 181.0 51.6 187.0 C53.2 193.0 55.9 198.2 57.6 202.6 C59.3 207.0 60.8 210.8 61.8 213.4 C62.8 216.0 63.2 217.2 63.5 218.0 L334.6 218 L334.6 -2 Z" fill="#08A4E2"/>
<path d="M116.0 -2.0 C115.3 -1.1 114.7 -0.5 112.0 3.2 C109.3 6.9 103.7 15.2 100.0 20.0 C96.3 24.8 93.0 27.8 90.0 32.0 C87.0 36.2 85.8 39.3 82.0 45.0 C78.2 50.7 72.2 58.8 67.0 66.0 C61.8 73.2 55.3 81.3 51.0 88.0 C46.7 94.7 43.2 99.8 41.0 106.0 C38.8 112.2 38.2 119.0 37.5 125.0 C36.8 131.0 36.6 135.1 37.0 142.0 C37.4 148.9 38.4 159.1 39.6 166.6 C40.8 174.1 42.6 180.6 44.0 187.0 C45.4 193.4 46.8 200.6 48.0 205.0 C49.2 209.4 50.2 211.2 51.0 213.4 C51.8 215.6 52.2 217.2 52.5 218.0 L334.6 218 L334.6 -2 Z" fill="#0A8CC6"/>
<path d="M140.0 -2.0 C139.0 -1.2 138.0 0.6 134.0 2.9 C130.0 5.2 122.2 7.5 116.0 12.0 C109.8 16.5 101.9 24.0 96.8 30.0 C91.7 36.0 90.4 39.7 85.4 48.0 C80.4 56.3 72.2 70.3 67.0 80.0 C61.8 89.7 56.8 98.5 54.0 106.0 C51.2 113.5 51.2 119.0 50.5 125.0 C49.8 131.0 49.6 135.1 50.0 142.0 C50.4 148.9 51.5 159.1 52.8 166.6 C54.1 174.1 55.6 180.6 58.0 187.0 C60.4 193.4 64.9 200.6 67.2 205.0 C69.5 209.4 70.8 211.2 72.0 213.4 C73.2 215.6 74.1 217.2 74.5 218.0 L334.6 218 L334.6 -2 Z" fill="#0076A4"/>
<path d="M87.5 -2.0 C87.0 -1.2 87.7 -1.9 84.8 2.9 C81.9 7.7 74.5 19.1 70.0 27.0 C65.5 34.9 62.6 40.2 58.0 50.0 C53.4 59.8 45.9 77.2 42.6 86.0 C39.3 94.8 39.5 96.5 38.3 103.0 C37.1 109.5 35.8 118.5 35.2 125.0 C34.6 131.5 34.5 135.1 34.6 142.0 C34.7 148.9 35.2 159.1 36.0 166.6 C36.8 174.1 38.2 181.0 39.6 187.0 C41.0 193.0 43.0 198.2 44.4 202.6 C45.8 207.0 47.1 210.8 48.0 213.4 C48.9 216.0 49.2 217.2 49.5 218.0" fill="none" stroke="#0A2A44" stroke-width="0.7"/>
<path d="M104.6 -2.0 C104.1 -1.2 104.8 -1.9 101.5 2.9 C98.2 7.7 89.8 19.5 85.0 27.0 C80.2 34.5 77.3 39.2 72.8 48.0 C68.3 56.8 61.5 70.8 58.0 80.0 C54.5 89.2 53.2 95.5 51.5 103.0 C49.8 110.5 48.7 118.5 48.0 125.0 C47.3 131.5 47.3 135.1 47.3 142.0 C47.3 148.9 47.3 159.1 48.0 166.6 C48.7 174.1 50.0 181.0 51.6 187.0 C53.2 193.0 55.9 198.2 57.6 202.6 C59.3 207.0 60.8 210.8 61.8 213.4 C62.8 216.0 63.2 217.2 63.5 218.0" fill="none" stroke="#0A2A44" stroke-width="0.7"/>
<path d="M161.0 132.0 C160.6 130.7 159.2 127.0 158.5 124.0 C157.8 121.0 156.4 119.0 157.0 114.0 C157.6 109.0 158.2 102.0 162.0 94.0 C165.8 86.0 172.7 73.6 180.0 66.0 C187.3 58.4 199.0 51.9 206.0 48.5 C213.0 45.1 216.7 46.6 222.0 45.5 C227.3 44.4 233.0 41.9 238.0 42.0 C243.0 42.1 247.7 44.3 252.0 46.0 C256.3 47.7 259.3 48.0 264.0 52.0 C268.7 56.0 276.0 64.3 280.0 70.0 C284.0 75.7 286.6 80.0 288.0 86.0 C289.4 92.0 288.8 101.0 288.5 106.0 C288.2 111.0 287.2 112.3 286.5 116.0 C285.8 119.7 284.4 126.0 284.0 128.0 L270 125 L175 131Z" fill="#05A696"/>
<path d="M163.0 120.0 C161.8 117.7 161.8 111.3 163.0 106.0 C164.2 100.7 166.5 94.3 170.0 88.0 C173.5 81.7 178.0 74.0 184.0 68.0 C190.0 62.0 199.0 55.5 206.0 52.0 C213.0 48.5 220.3 48.4 226.0 47.3 C231.7 46.2 235.3 45.1 240.0 45.5 C244.7 45.9 250.0 47.8 254.0 49.5 C258.0 51.2 260.2 52.2 264.0 56.0 C267.8 59.8 273.5 66.3 277.0 72.0 C280.5 77.7 283.5 84.7 285.0 90.0 C286.5 95.3 286.8 101.0 286.0 104.0 C285.2 107.0 290.2 107.0 280.0 108.0 C269.8 109.0 243.3 108.0 225.0 110.0 C206.7 112.0 180.3 118.3 170.0 120.0 C159.7 121.7 164.2 122.3 163.0 120.0Z" fill="#08A46C" />
<path d="M168.0 104.0 C167.3 100.3 172.3 92.0 176.0 86.0 C179.7 80.0 184.7 73.2 190.0 68.0 C195.3 62.8 202.0 58.1 208.0 55.0 C214.0 51.9 220.3 50.4 226.0 49.3 C231.7 48.2 237.0 47.7 242.0 48.5 C247.0 49.3 252.3 52.1 256.0 54.0 C259.7 55.9 261.0 56.7 264.0 60.0 C267.0 63.3 271.2 69.0 274.0 74.0 C276.8 79.0 281.7 85.7 281.0 90.0 C280.3 94.3 279.3 98.3 270.0 100.0 C260.7 101.7 240.0 98.7 225.0 100.0 C210.0 101.3 189.5 107.3 180.0 108.0 C170.5 108.7 168.7 107.7 168.0 104.0Z" fill="#10A44C" />
<clipPath id="e4"><ellipse cx="223.3" cy="121.6" rx="67.8" ry="60.1" transform="rotate(-61.9 223.3 121.6)" fill="none" stroke="#8a8478" stroke-width="0.90" /></clipPath><g clip-path="url(#e4)">
<rect x="150" y="40" width="150" height="160" fill="#0076A4"/>
<path d="M150.0 127.0 C151.7 126.5 153.3 125.7 160.0 124.0 C166.7 122.3 180.0 119.3 190.0 117.0 C200.0 114.7 210.0 111.7 220.0 110.0 C230.0 108.3 239.3 107.8 250.0 107.0 C260.7 106.2 276.5 105.5 284.0 105.0 C291.5 104.5 293.2 104.2 295.0 104.0 L295.0 30.0 L150.0 30.0 Z" fill="#05A696"/>
<path d="M152.0 124.0 C154.2 122.8 158.7 120.3 165.0 117.0 C171.3 113.7 179.8 107.7 190.0 104.0 C200.2 100.3 214.7 97.2 226.0 95.0 C237.3 92.8 249.0 91.5 258.0 91.0 C267.0 90.5 274.0 90.8 280.0 92.0 C286.0 93.2 291.7 97.0 294.0 98.0 L294.0 30.0 L152.0 30.0 Z" fill="#10A44C"/>
<path d="M155.0 112.0 C157.2 110.3 162.8 105.5 168.0 102.0 C173.2 98.5 179.7 94.3 186.0 91.0 C192.3 87.7 199.3 84.1 206.0 82.0 C212.7 79.9 218.7 79.2 226.0 78.5 C233.3 77.8 242.7 77.6 250.0 78.0 C257.3 78.4 264.7 79.5 270.0 81.0 C275.3 82.5 278.0 84.5 282.0 87.0 C286.0 89.5 292.0 94.5 294.0 96.0 L294.0 30.0 L155.0 30.0 Z" fill="#16A41C"/>
</g>
<path d="M165.3 105.0 L165.6 99.5 L167.3 94.5 L169.5 89.6 L172.2 84.8 L175.2 80.3 L178.5 75.9 L182.3 71.8 L186.4 68.0 L190.8 64.4 L195.5 61.2 L200.5 58.4 L205.9 55.9 L211.5 53.9 L217.3 52.5 L223.2 51.5 L229.3 51.2 L235.4 51.5 L241.5 52.5 L247.4 54.1 L253.1 56.4 L258.6 59.3 L263.6 62.8 L268.2 66.8 L272.3 71.4 L275.8 76.3 L278.8 81.5 L281.0 87.0 L281.6 93.2 L281.6 93.2 L276.6 89.6 L273.3 85.5 L269.8 81.5 L266.1 77.7 L262.1 74.3 L257.7 71.4 L253.2 68.8 L248.4 66.7 L243.5 65.1 L238.4 64.1 L233.3 63.5 L228.2 63.4 L223.2 63.7 L218.3 64.5 L213.5 65.7 L208.9 67.3 L204.4 69.1 L200.2 71.3 L196.1 73.8 L192.2 76.5 L188.6 79.4 L185.1 82.6 L181.8 86.0 L178.6 89.5 L175.7 93.2 L172.8 97.1 L169.9 101.2 L165.3 105.0Z" fill="#6CAE10"/>
<path d="M172.3 89.7 L173.9 85.8 L176.1 82.2 L178.6 78.8 L181.4 75.5 L184.3 72.4 L187.5 69.4 L190.9 66.6 L194.5 64.0 L198.3 61.7 L202.3 59.6 L206.4 57.7 L210.7 56.1 L215.2 54.8 L219.8 53.9 L224.4 53.3 L229.1 53.1 L233.9 53.3 L238.6 53.9 L243.3 54.9 L247.8 56.3 L252.3 58.1 L256.5 60.3 L260.5 62.8 L264.3 65.8 L267.8 69.0 L270.9 72.6 L273.6 76.4 L275.6 80.8 L275.6 80.8 L271.7 78.1 L268.4 75.1 L265.0 72.3 L261.5 69.6 L257.7 67.3 L253.8 65.2 L249.8 63.5 L245.6 62.1 L241.4 61.0 L237.1 60.3 L232.8 59.9 L228.5 59.9 L224.3 60.1 L220.1 60.7 L216.0 61.5 L212.0 62.6 L208.1 63.9 L204.3 65.5 L200.6 67.2 L197.1 69.2 L193.7 71.3 L190.4 73.6 L187.3 76.1 L184.3 78.7 L181.4 81.4 L178.6 84.2 L175.8 87.2 L172.3 89.7Z" fill="#A6AA10"/>
<path d="M184.1 74.9 L185.8 72.8 L187.6 70.9 L189.6 69.1 L191.7 67.4 L193.8 65.8 L196.1 64.3 L198.4 62.9 L200.7 61.5 L203.2 60.3 L205.7 59.1 L208.3 58.1 L210.9 57.1 L213.6 56.3 L216.4 55.6 L219.1 55.1 L222.0 54.7 L224.8 54.4 L227.7 54.3 L230.5 54.3 L233.4 54.4 L236.3 54.8 L239.1 55.2 L242.0 55.9 L244.7 56.7 L247.5 57.7 L250.1 58.8 L252.7 60.1 L255.1 61.7 L255.1 61.7 L252.2 61.2 L249.5 60.4 L246.7 59.7 L243.9 59.1 L241.2 58.6 L238.4 58.3 L235.7 58.0 L232.9 57.9 L230.2 57.9 L227.4 58.0 L224.7 58.2 L222.0 58.5 L219.4 59.0 L216.8 59.5 L214.2 60.1 L211.6 60.9 L209.1 61.7 L206.7 62.6 L204.3 63.5 L201.9 64.6 L199.6 65.7 L197.3 66.9 L195.1 68.2 L192.9 69.5 L190.7 70.8 L188.6 72.2 L186.4 73.7 L184.1 74.9Z" fill="#C48A10"/>
<path d="M190.6 69.2 L192.0 67.9 L193.5 66.6 L195.1 65.5 L196.8 64.4 L198.5 63.3 L200.2 62.3 L202.0 61.3 L203.8 60.4 L205.6 59.6 L207.5 58.8 L209.4 58.1 L211.3 57.4 L213.3 56.8 L215.3 56.3 L217.3 55.9 L219.3 55.5 L221.4 55.2 L223.5 54.9 L225.5 54.8 L227.6 54.7 L229.7 54.7 L231.8 54.8 L233.9 55.0 L236.0 55.3 L238.1 55.6 L240.2 56.1 L242.2 56.6 L244.2 57.4 L244.2 57.4 L242.0 57.3 L239.9 57.1 L237.8 56.9 L235.7 56.8 L233.7 56.7 L231.6 56.7 L229.5 56.8 L227.5 56.9 L225.5 57.0 L223.5 57.2 L221.5 57.5 L219.5 57.9 L217.5 58.3 L215.6 58.7 L213.7 59.2 L211.8 59.7 L209.9 60.3 L208.0 61.0 L206.2 61.7 L204.4 62.4 L202.6 63.2 L200.8 64.0 L199.1 64.8 L197.4 65.7 L195.7 66.6 L194.0 67.5 L192.3 68.4 L190.6 69.2Z" fill="#C4500C"/>
<path d="M197.0 67.0 C196.8 66.5 198.4 64.7 199.5 63.8 C200.6 62.9 202.8 61.8 203.5 61.8 C204.2 61.8 204.5 62.7 204.0 63.5 C203.5 64.3 201.7 66.2 200.5 66.8 C199.3 67.4 197.2 67.5 197.0 67.0Z" fill="#A81408" />
<path d="M217.0 56.8 C217.2 56.4 220.3 55.4 222.0 55.0 C223.7 54.6 226.2 54.4 227.0 54.6 C227.8 54.8 228.0 55.7 227.0 56.2 C226.0 56.7 222.7 57.3 221.0 57.4 C219.3 57.5 216.8 57.2 217.0 56.8Z" fill="#A81408" />
<path d="M161.0 140.0 C158.5 141.2 159.2 146.0 160.0 150.0 C160.8 154.0 162.7 159.0 166.0 164.0 C169.3 169.0 175.0 175.3 180.0 180.0 C185.0 184.7 191.0 189.2 196.0 192.0 C201.0 194.8 205.3 196.7 210.0 197.0 C214.7 197.3 219.3 195.1 224.0 194.0 C228.7 192.9 232.0 194.0 238.0 190.5 C244.0 187.0 253.7 178.9 260.0 173.0 C266.3 167.1 271.7 161.2 276.0 155.0 C280.3 148.8 284.0 140.7 286.0 136.0 C288.0 131.3 288.3 128.7 288.0 127.0 C287.7 125.3 288.7 124.8 284.0 126.0 C279.3 127.2 269.0 131.3 260.0 134.0 C251.0 136.7 240.0 140.0 230.0 142.0 C220.0 144.0 209.2 145.8 200.0 146.0 C190.8 146.2 181.5 144.0 175.0 143.0 C168.5 142.0 163.5 138.8 161.0 140.0Z" fill="#1658C4" />
<clipPath id="e41"><ellipse cx="223.3" cy="121.6" rx="67.8" ry="60.1" transform="rotate(-61.9 223.3 121.6)" fill="none" stroke="#8a8478" stroke-width="0.90" /></clipPath><g clip-path="url(#e41)">
<path d="M150.0 141.0 C152.2 141.3 158.0 142.0 163.0 143.0 C168.0 144.0 173.8 145.7 180.0 146.8 C186.2 147.9 191.7 149.2 200.0 149.5 C208.3 149.8 220.0 149.5 230.0 148.5 C240.0 147.5 251.7 145.4 260.0 143.5 C268.3 141.6 274.2 139.1 280.0 137.0 C285.8 134.9 292.5 132.0 295.0 131.0 L295.0 215.0 L150.0 215.0 Z" fill="#0A38BE"/>
<path d="M168.0 160.0 C169.3 161.3 170.7 166.0 176.0 168.0 C181.3 170.0 192.0 171.2 200.0 172.0 C208.0 172.8 216.3 173.3 224.0 172.5 C231.7 171.7 239.7 169.4 246.0 167.0 C252.3 164.6 257.3 160.8 262.0 158.0 C266.7 155.2 269.3 151.3 274.0 150.0 C278.7 148.7 287.3 150.0 290.0 150.0 L290.0 215.0 L168.0 215.0 Z" fill="#0410A6"/>
</g>
<path d="M186 195 L196 198 L205 202.5 L198 202Z M221 197 L224 202 L220 203Z M248 190.5 L262 178 L272 170 L268 178 L256 187Z" fill="#12AE8E"/>
<ellipse cx="223.3" cy="121.6" rx="67.8" ry="60.1" transform="rotate(-61.9 223.3 121.6)" fill="none" stroke="#4c525a" stroke-width="1.00" />
<ellipse cx="223.3" cy="121.6" rx="67.8" ry="60.1" transform="rotate(-61.9 223.3 121.6)" fill="none" stroke="#d8d8d4" stroke-width="0.70" stroke-dasharray="1.4 2.2" stroke-opacity="0.6"/>
<clipPath id="t4"><rect x="194.0" y="40" width="40.0" height="45"/></clipPath>
<g clip-path="url(#t4)"><ellipse cx="223.3" cy="121.6" rx="67.8" ry="60.1" transform="rotate(-61.9 223.3 121.6)" fill="none" stroke="#7a1c10" stroke-width="1.20" /></g>
<g font-family="'DejaVu Sans', sans-serif" font-size="8.45" fill="#E4E23C" fill-opacity="0.92">
<text x="200.6" y="124.1">7.305e+00</text>
<text x="201.4" y="124.1" opacity="0.75">3.201e+00</text>
</g>
<path d="M223.8 123.4 L258.6 119.3 L258.0 115.6 L223.6 121.6 Z" fill="#0a0cc6"/>
<path d="M268.2 116.0 L258.8 120.9 L257.8 114.0 Z" fill="#0a0cc6"/>
<path d="M223.7 122.5 V162.8" stroke="#e01c34" stroke-width="2.6"/>
<path d="M223.7 169.8 L220.0 161.3 L227.4 161.3 Z" fill="#d81c38"/>
<path d="M227.6 52.6 q2.2 1.4 -0.4 3.2" stroke="#ecd61c" fill="none" stroke-width="0.9"/>
<g font-family="'DejaVu Sans', sans-serif" font-size="8.45" fill="#E4E23C" fill-opacity="0.92">
<text x="200.0" y="180.0">4.278e+02</text>
<text x="253.0" y="117.5">4.469e+03</text>
</g>
<g transform="scale(1.125 1)" font-family="'DejaVu Sans', 'Liberation Sans', sans-serif" font-size="8.8" fill="#0c1018" stroke="#0c1018" stroke-width="0.32">
<text x="14.58" y="26.8" stroke-width="0.12">S, Max. Principal</text>
<text x="14.58" y="38.8" stroke-width="0.12" textLength="55.64" lengthAdjust="spacingAndGlyphs">(Avg: 100%)</text>
<text x="54.22" y="52.30" text-anchor="middle">92.073</text>
<text x="54.22" y="62.05" text-anchor="middle">82.666</text>
<text x="54.22" y="71.80" text-anchor="middle">73.259</text>
<text x="54.22" y="81.55" text-anchor="middle">63.852</text>
<text x="54.22" y="91.30" text-anchor="middle">54.445</text>
<text x="54.22" y="101.05" text-anchor="middle">45.038</text>
<text x="54.22" y="110.80" text-anchor="middle">35.631</text>
<text x="54.22" y="120.55" text-anchor="middle">26.224</text>
<text x="54.22" y="130.30" text-anchor="middle">16.817</text>
<text x="54.22" y="140.05" text-anchor="middle">7.410</text>
<text x="54.22" y="149.80" text-anchor="middle">-1.997</text>
<text x="54.22" y="159.55" text-anchor="middle">-11.405</text>
<text x="54.22" y="169.30" text-anchor="middle">-20.812</text>
<text x="15.11" y="181.2" stroke-width="0.15">Max: 92.073</text>
<text x="21.33" y="193.6" stroke-width="0.15">Node: PART-1-1.10558</text>
</g>
<rect x="16.6" y="49.00" width="14.8" height="9.75" fill="#FF0000"/>
<rect x="16.6" y="58.75" width="14.8" height="9.75" fill="#FF5D00"/>
<rect x="16.6" y="68.50" width="14.8" height="9.75" fill="#FFB900"/>
<rect x="16.6" y="78.25" width="14.8" height="9.75" fill="#E8FF00"/>
<rect x="16.6" y="88.00" width="14.8" height="9.75" fill="#8BFF00"/>
<rect x="16.6" y="97.75" width="14.8" height="9.75" fill="#2EFF00"/>
<rect x="16.6" y="107.50" width="14.8" height="9.75" fill="#00FF2E"/>
<rect x="16.6" y="117.25" width="14.8" height="9.75" fill="#00FF8B"/>
<rect x="16.6" y="127.00" width="14.8" height="9.75" fill="#00FFE8"/>
<rect x="16.6" y="136.75" width="14.8" height="9.75" fill="#00B9FF"/>
<rect x="16.6" y="146.50" width="14.8" height="9.75" fill="#005DFF"/>
<rect x="16.6" y="156.25" width="14.8" height="9.75" fill="#0000FF"/>
<path d="M16.6 49.00 H35.2" stroke="#202830" stroke-width="0.7"/>
<path d="M16.6 58.75 H35.2" stroke="#202830" stroke-width="0.7"/>
<path d="M16.6 68.50 H35.2" stroke="#202830" stroke-width="0.7"/>
<path d="M16.6 78.25 H35.2" stroke="#202830" stroke-width="0.7"/>
<path d="M16.6 88.00 H35.2" stroke="#202830" stroke-width="0.7"/>
<path d="M16.6 97.75 H35.2" stroke="#202830" stroke-width="0.7"/>
<path d="M16.6 107.50 H35.2" stroke="#202830" stroke-width="0.7"/>
<path d="M16.6 117.25 H35.2" stroke="#202830" stroke-width="0.7"/>
<path d="M16.6 127.00 H35.2" stroke="#202830" stroke-width="0.7"/>
<path d="M16.6 136.75 H35.2" stroke="#202830" stroke-width="0.7"/>
<path d="M16.6 146.50 H35.2" stroke="#202830" stroke-width="0.7"/>
<path d="M16.6 156.25 H35.2" stroke="#202830" stroke-width="0.7"/>
<path d="M16.6 166.00 H35.2" stroke="#202830" stroke-width="0.7"/>
<path d="M16.6 49V166M31.4 49V166" stroke="#202830" stroke-width="0.7" fill="none"/>
<rect x="6.9" y="7.2" width="140.1" height="198.4" fill="none" stroke="#444a50" stroke-width="1.1"/>
<g font-family="'DejaVu Sans', sans-serif" font-weight="bold" font-size="9.2" fill="#111">
<text x="4" y="199.4">Z</text><text x="32.4" y="201.9">Y</text><text x="21.8" y="217">X</text></g>
<path d="M27 196.2 L19 196.6" stroke="#1a22d8" stroke-width="1.6"/>
<path d="M15.3 196.8 L20.2 194.4 L20.2 199Z" fill="#1a22d8"/>
<path d="M26.6 197 L26.6 203" stroke="#cc0c0c" stroke-width="1.6"/>
<path d="M26.6 207 L24.6 202 L28.6 202Z" fill="#cc0c0c"/>
<circle cx="29.2" cy="197" r="2" fill="#18c018"/>
</g>
<rect x="168.0" y="2.2" width="155.4" height="30.1" fill="#fff" stroke="#161616" stroke-width="1.2"/>
<text x="178.4" y="23.4" font-family="'Liberation Sans', sans-serif" font-size="17.3" fill="#0a0a0a" textLength="137.2" lengthAdjust="spacingAndGlyphs">Mesh Size = 1 mm</text>
</g>
<g transform="translate(335 228)">
<g clip-path="url(#cpb)">
<path d="M63.5 -2.0 C63.1 -1.2 63.0 0.2 61.4 2.9 C59.8 5.6 57.0 8.8 54.0 14.0 C51.0 19.2 46.4 28.2 43.5 34.0 C40.6 39.8 38.2 45.2 36.4 49.0 C34.6 52.8 34.2 51.8 32.5 57.0 C30.8 62.2 27.9 71.8 26.0 80.0 C24.1 88.2 22.5 97.7 21.3 106.0 C20.1 114.3 19.4 123.5 19.0 130.0 C18.6 136.5 18.5 138.9 18.6 145.0 C18.7 151.1 18.9 159.6 19.8 166.6 C20.7 173.6 22.3 181.0 24.0 187.0 C25.7 193.0 28.5 198.2 30.0 202.6 C31.5 207.0 32.2 210.8 33.0 213.4 C33.8 216.0 34.2 217.2 34.5 218.0 L334.6 218 L334.6 -2 Z" fill="#06B8F6"/>
<path d="M87.5 -2.0 C87.0 -1.2 87.7 -1.9 84.8 2.9 C81.9 7.7 74.5 19.1 70.0 27.0 C65.5 34.9 62.6 40.2 58.0 50.0 C53.4 59.8 45.9 77.2 42.6 86.0 C39.3 94.8 39.5 96.5 38.3 103.0 C37.1 109.5 35.8 118.5 35.2 125.0 C34.6 131.5 34.5 135.1 34.6 142.0 C34.7 148.9 35.2 159.1 36.0 166.6 C36.8 174.1 38.2 181.0 39.6 187.0 C41.0 193.0 43.0 198.2 44.4 202.6 C45.8 207.0 47.1 210.8 48.0 213.4 C48.9 216.0 49.2 217.2 49.5 218.0 L334.6 218 L334.6 -2 Z" fill="#06B0F0"/>
<path d="M104.6 -2.0 C104.1 -1.2 104.8 -1.9 101.5 2.9 C98.2 7.7 89.8 19.5 85.0 27.0 C80.2 34.5 77.3 39.2 72.8 48.0 C68.3 56.8 61.5 70.8 58.0 80.0 C54.5 89.2 53.2 95.5 51.5 103.0 C49.8 110.5 48.7 118.5 48.0 125.0 C47.3 131.5 47.3 135.1 47.3 142.0 C47.3 148.9 47.3 159.1 48.0 166.6 C48.7 174.1 50.0 181.0 51.6 187.0 C53.2 193.0 55.9 198.2 57.6 202.6 C59.3 207.0 60.8 210.8 61.8 213.4 C62.8 216.0 63.2 217.2 63.5 218.0 L334.6 218 L334.6 -2 Z" fill="#08A4E2"/>
<path d="M116.0 -2.0 C115.3 -1.1 114.7 -0.5 112.0 3.2 C109.3 6.9 103.7 15.2 100.0 20.0 C96.3 24.8 93.0 27.8 90.0 32.0 C87.0 36.2 85.8 39.3 82.0 45.0 C78.2 50.7 72.2 58.8 67.0 66.0 C61.8 73.2 55.3 81.3 51.0 88.0 C46.7 94.7 43.2 99.8 41.0 106.0 C38.8 112.2 38.2 119.0 37.5 125.0 C36.8 131.0 36.6 135.1 37.0 142.0 C37.4 148.9 38.4 159.1 39.6 166.6 C40.8 174.1 42.6 180.6 44.0 187.0 C45.4 193.4 46.8 200.6 48.0 205.0 C49.2 209.4 50.2 211.2 51.0 213.4 C51.8 215.6 52.2 217.2 52.5 218.0 L334.6 218 L334.6 -2 Z" fill="#0A8CC6"/>
<path d="M140.0 -2.0 C139.0 -1.2 138.0 0.6 134.0 2.9 C130.0 5.2 122.2 7.5 116.0 12.0 C109.8 16.5 101.9 24.0 96.8 30.0 C91.7 36.0 90.4 39.7 85.4 48.0 C80.4 56.3 72.2 70.3 67.0 80.0 C61.8 89.7 56.8 98.5 54.0 106.0 C51.2 113.5 51.2 119.0 50.5 125.0 C49.8 131.0 49.6 135.1 50.0 142.0 C50.4 148.9 51.5 159.1 52.8 166.6 C54.1 174.1 55.6 180.6 58.0 187.0 C60.4 193.4 64.9 200.6 67.2 205.0 C69.5 209.4 70.8 211.2 72.0 213.4 C73.2 215.6 74.1 217.2 74.5 218.0 L334.6 218 L334.6 -2 Z" fill="#0076A4"/>
<path d="M87.5 -2.0 C87.0 -1.2 87.7 -1.9 84.8 2.9 C81.9 7.7 74.5 19.1 70.0 27.0 C65.5 34.9 62.6 40.2 58.0 50.0 C53.4 59.8 45.9 77.2 42.6 86.0 C39.3 94.8 39.5 96.5 38.3 103.0 C37.1 109.5 35.8 118.5 35.2 125.0 C34.6 131.5 34.5 135.1 34.6 142.0 C34.7 148.9 35.2 159.1 36.0 166.6 C36.8 174.1 38.2 181.0 39.6 187.0 C41.0 193.0 43.0 198.2 44.4 202.6 C45.8 207.0 47.1 210.8 48.0 213.4 C48.9 216.0 49.2 217.2 49.5 218.0" fill="none" stroke="#0A2A44" stroke-width="0.7"/>
<path d="M104.6 -2.0 C104.1 -1.2 104.8 -1.9 101.5 2.9 C98.2 7.7 89.8 19.5 85.0 27.0 C80.2 34.5 77.3 39.2 72.8 48.0 C68.3 56.8 61.5 70.8 58.0 80.0 C54.5 89.2 53.2 95.5 51.5 103.0 C49.8 110.5 48.7 118.5 48.0 125.0 C47.3 131.5 47.3 135.1 47.3 142.0 C47.3 148.9 47.3 159.1 48.0 166.6 C48.7 174.1 50.0 181.0 51.6 187.0 C53.2 193.0 55.9 198.2 57.6 202.6 C59.3 207.0 60.8 210.8 61.8 213.4 C62.8 216.0 63.2 217.2 63.5 218.0" fill="none" stroke="#0A2A44" stroke-width="0.7"/>
<path d="M156.0 132.0 C155.3 131.0 152.3 128.3 152.0 126.0 C151.7 123.7 153.3 122.7 154.0 118.0 C154.7 113.3 154.3 104.3 156.0 98.0 C157.7 91.7 160.7 86.0 164.0 80.0 C167.3 74.0 171.7 66.7 176.0 62.0 C180.3 57.3 184.0 55.5 190.0 52.0 C196.0 48.5 206.0 43.2 212.0 41.0 C218.0 38.8 220.7 38.7 226.0 38.6 C231.3 38.5 238.3 38.9 244.0 40.5 C249.7 42.1 254.7 45.1 260.0 48.0 C265.3 50.9 271.7 54.7 276.0 58.0 C280.3 61.3 283.3 63.7 286.0 68.0 C288.7 72.3 290.7 78.0 292.0 84.0 C293.3 90.0 294.7 100.2 294.0 104.0 C293.3 107.8 289.7 103.0 288.0 107.0 C286.3 111.0 284.7 124.5 284.0 128.0 L270 125 L175 131Z" fill="#05A696"/>
<path d="M159.0 122.0 C157.3 119.0 158.5 110.3 160.0 104.0 C161.5 97.7 164.7 90.5 168.0 84.0 C171.3 77.5 175.0 70.7 180.0 65.0 C185.0 59.3 190.3 53.8 198.0 50.0 C205.7 46.2 218.0 43.4 226.0 42.5 C234.0 41.6 239.7 42.6 246.0 44.5 C252.3 46.4 258.3 49.8 264.0 54.0 C269.7 58.2 276.0 64.0 280.0 70.0 C284.0 76.0 286.5 84.5 288.0 90.0 C289.5 95.5 290.3 100.0 289.0 103.0 C287.7 106.0 290.7 106.5 280.0 108.0 C269.3 109.5 243.3 109.7 225.0 112.0 C206.7 114.3 181.0 120.3 170.0 122.0 C159.0 123.7 160.7 125.0 159.0 122.0Z" fill="#08A46C" />
<path d="M164.0 108.0 C163.0 104.0 168.7 94.5 172.0 88.0 C175.3 81.5 179.0 74.7 184.0 69.0 C189.0 63.3 195.0 57.9 202.0 54.0 C209.0 50.1 218.7 46.8 226.0 45.8 C233.3 44.8 240.0 46.1 246.0 48.0 C252.0 49.9 257.0 52.7 262.0 57.0 C267.0 61.3 272.3 68.2 276.0 74.0 C279.7 79.8 284.7 87.3 284.0 92.0 C283.3 96.7 281.8 100.3 272.0 102.0 C262.2 103.7 240.7 100.3 225.0 102.0 C209.3 103.7 188.2 111.0 178.0 112.0 C167.8 113.0 165.0 112.0 164.0 108.0Z" fill="#10A44C" />
<path d="M170.0 96.0 C169.3 92.3 176.0 83.5 180.0 78.0 C184.0 72.5 189.0 67.2 194.0 63.0 C199.0 58.8 204.3 55.5 210.0 53.0 C215.7 50.5 222.0 48.4 228.0 48.0 C234.0 47.6 240.7 48.7 246.0 50.5 C251.3 52.3 255.7 54.9 260.0 59.0 C264.3 63.1 269.3 69.8 272.0 75.0 C274.7 80.2 283.7 87.2 276.0 90.0 C268.3 92.8 241.3 90.3 226.0 92.0 C210.7 93.7 193.3 99.3 184.0 100.0 C174.7 100.7 170.7 99.7 170.0 96.0Z" fill="#16A41C" />
<clipPath id="e5"><ellipse cx="223.3" cy="121.6" rx="67.8" ry="60.1" transform="rotate(-61.9 223.3 121.6)" fill="none" stroke="#8a8478" stroke-width="0.90" /></clipPath><g clip-path="url(#e5)">
<rect x="150" y="40" width="150" height="160" fill="#0076A4"/>
<path d="M150.0 129.0 C151.8 128.5 154.3 127.7 161.0 126.0 C167.7 124.3 179.2 121.5 190.0 119.0 C200.8 116.5 215.0 112.9 226.0 111.0 C237.0 109.1 246.3 108.3 256.0 107.5 C265.7 106.7 277.5 106.4 284.0 106.0 C290.5 105.6 293.2 105.2 295.0 105.0 L295.0 30.0 L150.0 30.0 Z" fill="#05A696"/>
<path d="M152.0 124.0 C154.3 122.3 159.7 117.3 166.0 114.0 C172.3 110.7 180.0 106.8 190.0 104.0 C200.0 101.2 214.7 98.5 226.0 97.0 C237.3 95.5 248.3 94.8 258.0 95.0 C267.7 95.2 278.0 96.8 284.0 98.0 C290.0 99.2 292.3 101.3 294.0 102.0 L294.0 30.0 L152.0 30.0 Z" fill="#10A44C"/>
<path d="M155.0 116.0 C158.2 113.3 167.5 104.5 174.0 100.0 C180.5 95.5 185.3 91.9 194.0 89.0 C202.7 86.1 215.7 83.7 226.0 82.5 C236.3 81.3 247.3 81.1 256.0 82.0 C264.7 82.9 272.0 85.3 278.0 88.0 C284.0 90.7 289.7 96.3 292.0 98.0 L292.0 30.0 L155.0 30.0 Z" fill="#16A41C"/>
</g>
<path d="M164.6 107.0 L164.1 101.1 L165.5 95.7 L167.6 90.4 L170.1 85.4 L173.1 80.5 L176.5 75.8 L180.4 71.3 L184.6 67.2 L189.2 63.3 L194.1 59.8 L199.4 56.7 L205.0 54.1 L210.9 51.9 L217.1 50.4 L223.4 49.4 L229.8 49.1 L236.3 49.5 L242.7 50.6 L249.0 52.5 L255.0 55.0 L260.6 58.3 L265.8 62.2 L270.5 66.6 L274.6 71.6 L278.0 77.0 L280.7 82.7 L282.6 88.6 L282.3 95.3 L282.3 95.3 L273.8 93.5 L269.6 90.2 L265.7 87.0 L261.8 84.0 L257.8 81.4 L253.7 79.1 L249.5 77.1 L245.2 75.6 L240.8 74.5 L236.4 73.7 L232.0 73.4 L227.6 73.4 L223.4 73.8 L219.2 74.5 L215.1 75.4 L211.2 76.7 L207.3 78.2 L203.6 79.9 L200.0 81.9 L196.5 84.0 L193.2 86.3 L189.8 88.8 L186.6 91.5 L183.3 94.4 L180.1 97.4 L176.7 100.7 L172.9 104.2 L164.6 107.0Z" fill="#6CAE10"/>
<path d="M169.3 95.3 L170.3 90.7 L172.4 86.5 L174.8 82.5 L177.5 78.6 L180.5 75.0 L183.7 71.5 L187.3 68.2 L191.1 65.1 L195.1 62.3 L199.4 59.7 L203.9 57.5 L208.6 55.6 L213.5 54.0 L218.5 52.9 L223.6 52.1 L228.9 51.9 L234.1 52.1 L239.4 52.7 L244.5 53.9 L249.6 55.6 L254.4 57.8 L259.0 60.5 L263.3 63.6 L267.2 67.1 L270.8 70.9 L273.9 75.1 L276.5 79.6 L277.9 84.8 L277.9 84.8 L271.6 83.5 L267.7 80.9 L263.8 78.3 L260.0 76.0 L256.1 74.0 L252.1 72.2 L248.1 70.8 L244.0 69.6 L239.9 68.8 L235.8 68.3 L231.6 68.0 L227.6 68.1 L223.6 68.4 L219.6 69.0 L215.8 69.9 L212.0 70.9 L208.3 72.2 L204.8 73.7 L201.3 75.3 L197.9 77.1 L194.6 79.0 L191.3 81.1 L188.2 83.3 L185.0 85.7 L181.8 88.2 L178.6 90.8 L175.1 93.5 L169.3 95.3Z" fill="#A6AA10"/>
<path d="M178.4 81.1 L180.1 78.2 L182.2 75.5 L184.5 72.9 L186.9 70.5 L189.5 68.2 L192.3 66.0 L195.2 63.9 L198.2 62.0 L201.3 60.2 L204.6 58.6 L207.9 57.2 L211.4 56.0 L215.0 55.0 L218.6 54.2 L222.3 53.7 L226.0 53.3 L229.8 53.3 L233.6 53.4 L237.3 53.9 L241.1 54.6 L244.7 55.6 L248.3 56.8 L251.8 58.4 L255.2 60.1 L258.4 62.2 L261.4 64.4 L264.3 67.0 L266.6 70.0 L266.6 70.0 L262.2 69.7 L258.6 68.7 L255.2 67.6 L251.8 66.6 L248.5 65.8 L245.1 65.2 L241.8 64.7 L238.5 64.3 L235.2 64.1 L232.0 64.1 L228.8 64.2 L225.6 64.5 L222.5 64.9 L219.4 65.4 L216.3 66.0 L213.3 66.7 L210.4 67.6 L207.5 68.5 L204.6 69.5 L201.8 70.6 L199.0 71.8 L196.3 73.1 L193.5 74.5 L190.8 75.9 L188.0 77.4 L185.2 78.9 L182.3 80.4 L178.4 81.1Z" fill="#C48A10"/>
<path d="M188.9 70.6 L190.5 68.7 L192.4 67.1 L194.3 65.6 L196.3 64.2 L198.4 62.8 L200.6 61.5 L202.8 60.4 L205.1 59.3 L207.4 58.3 L209.8 57.3 L212.2 56.5 L214.7 55.8 L217.2 55.2 L219.8 54.8 L222.4 54.4 L225.0 54.1 L227.6 54.0 L230.2 54.0 L232.9 54.2 L235.5 54.4 L238.1 54.8 L240.7 55.4 L243.3 56.0 L245.8 56.8 L248.2 57.8 L250.7 58.9 L253.0 60.2 L255.1 61.7 L255.1 61.7 L251.9 62.3 L249.2 62.1 L246.6 61.9 L244.1 61.7 L241.6 61.5 L239.1 61.4 L236.7 61.3 L234.2 61.3 L231.8 61.4 L229.5 61.5 L227.1 61.7 L224.8 61.9 L222.5 62.2 L220.2 62.6 L217.9 63.0 L215.7 63.4 L213.5 63.9 L211.3 64.4 L209.1 65.0 L207.0 65.6 L204.8 66.3 L202.6 67.0 L200.5 67.7 L198.3 68.4 L196.2 69.2 L194.0 69.9 L191.7 70.6 L188.9 70.6Z" fill="#C4500C"/>
<path d="M201.7 62.2 L203.0 61.3 L204.4 60.5 L205.9 59.7 L207.4 59.1 L208.9 58.4 L210.4 57.8 L212.0 57.3 L213.5 56.8 L215.1 56.3 L216.7 55.9 L218.4 55.6 L220.0 55.3 L221.6 55.0 L223.3 54.8 L225.0 54.7 L226.6 54.6 L228.3 54.5 L230.0 54.5 L231.7 54.6 L233.4 54.7 L235.1 54.9 L236.7 55.1 L238.4 55.4 L240.1 55.8 L241.7 56.2 L243.3 56.7 L244.9 57.3 L246.4 58.1 L246.4 58.1 L244.5 58.4 L242.8 58.3 L241.1 58.2 L239.5 58.1 L237.8 58.1 L236.2 58.0 L234.5 58.0 L232.9 58.0 L231.3 58.0 L229.7 58.1 L228.1 58.1 L226.5 58.2 L224.9 58.4 L223.3 58.5 L221.7 58.7 L220.2 58.9 L218.6 59.1 L217.1 59.4 L215.5 59.7 L214.0 59.9 L212.5 60.2 L211.0 60.6 L209.4 60.9 L207.9 61.3 L206.4 61.6 L204.9 62.0 L203.4 62.3 L201.7 62.2Z" fill="#A81408"/>
<path d="M162.0 140.0 C156.8 141.5 158.8 146.3 158.5 150.0 C158.2 153.7 158.8 158.0 160.0 162.0 C161.2 166.0 163.0 170.3 166.0 174.0 C169.0 177.7 174.0 181.0 178.0 184.0 C182.0 187.0 186.0 190.3 190.0 192.0 C194.0 193.7 198.7 193.1 202.0 194.0 C205.3 194.9 206.7 197.3 210.0 197.5 C213.3 197.7 217.0 195.6 222.0 195.0 C227.0 194.4 235.0 195.5 240.0 194.0 C245.0 192.5 248.0 189.0 252.0 186.0 C256.0 183.0 259.3 181.0 264.0 176.0 C268.7 171.0 275.7 162.3 280.0 156.0 C284.3 149.7 288.2 142.0 290.0 138.0 C291.8 134.0 291.5 134.2 290.5 132.0 C289.5 129.8 290.8 125.0 284.0 125.0 C277.2 125.0 260.7 129.8 250.0 132.0 C239.3 134.2 230.0 136.5 220.0 138.0 C210.0 139.5 199.7 140.7 190.0 141.0 C180.3 141.3 167.2 138.5 162.0 140.0Z" fill="#1252C6" />
<clipPath id="e51"><ellipse cx="223.3" cy="121.6" rx="67.8" ry="60.1" transform="rotate(-61.9 223.3 121.6)" fill="none" stroke="#8a8478" stroke-width="0.90" /></clipPath><g clip-path="url(#e51)">
<path d="M150.0 139.5 C152.0 139.6 155.3 139.8 162.0 140.0 C168.7 140.2 180.3 141.3 190.0 141.0 C199.7 140.7 210.0 139.5 220.0 138.0 C230.0 136.5 240.0 134.2 250.0 132.0 C260.0 129.8 272.5 126.8 280.0 125.0 C287.5 123.2 292.5 121.7 295.0 121.0 L295.0 215.0 L150.0 215.0 Z" fill="#0A38BE"/>
</g>
<path d="M170.0 156.0 C168.3 152.8 172.3 157.8 174.0 159.0 C175.7 160.2 175.7 161.7 180.0 163.0 C184.3 164.3 192.7 166.0 200.0 167.0 C207.3 168.0 216.7 170.2 224.0 169.0 C231.3 167.8 237.3 162.3 244.0 160.0 C250.7 157.7 259.2 155.0 264.0 155.0 C268.8 155.0 272.3 157.5 273.0 160.0 C273.7 162.5 270.8 166.7 268.0 170.0 C265.2 173.3 260.7 177.2 256.0 180.0 C251.3 182.8 246.0 185.4 240.0 187.0 C234.0 188.6 226.7 189.5 220.0 189.5 C213.3 189.5 206.0 188.9 200.0 187.0 C194.0 185.1 189.0 183.2 184.0 178.0 C179.0 172.8 171.7 159.2 170.0 156.0Z" fill="#0410A6" />
<ellipse cx="223.3" cy="121.6" rx="67.8" ry="60.1" transform="rotate(-61.9 223.3 121.6)" fill="none" stroke="#4c525a" stroke-width="1.00" />
<ellipse cx="223.3" cy="121.6" rx="67.8" ry="60.1" transform="rotate(-61.9 223.3 121.6)" fill="none" stroke="#d8d8d4" stroke-width="0.70" stroke-dasharray="1.4 2.2" stroke-opacity="0.6"/>
<clipPath id="t5"><rect x="196.0" y="40" width="62.0" height="45"/></clipPath>
<g clip-path="url(#t5)"><ellipse cx="223.3" cy="121.6" rx="67.8" ry="60.1" transform="rotate(-61.9 223.3 121.6)" fill="none" stroke="#7a1c10" stroke-width="1.20" /></g>
<g font-family="'DejaVu Sans', sans-serif" font-size="8.45" fill="#E4E23C" fill-opacity="0.92">
<text x="200.6" y="124.1">2.392e-01</text>
<text x="201.4" y="124.1" opacity="0.75">9.258e-01</text>
</g>
<path d="M223.8 123.4 L258.6 119.3 L258.0 115.6 L223.6 121.6 Z" fill="#0a0cc6"/>
<path d="M268.2 116.0 L258.8 120.9 L257.8 114.0 Z" fill="#0a0cc6"/>
<path d="M223.7 122.5 V162.8" stroke="#e01c34" stroke-width="2.6"/>
<path d="M223.7 169.8 L220.0 161.3 L227.4 161.3 Z" fill="#d81c38"/>
<path d="M227.6 52.6 q2.2 1.4 -0.4 3.2" stroke="#ecd61c" fill="none" stroke-width="0.9"/>
<g font-family="'DejaVu Sans', sans-serif" font-size="8.45" fill="#E4E23C" fill-opacity="0.92">
<text x="200.0" y="180.0">4.117e+02</text>
<text x="253.0" y="117.5">4.279e+03</text>
</g>
<g transform="scale(1.125 1)" font-family="'DejaVu Sans', 'Liberation Sans', sans-serif" font-size="8.8" fill="#0c1018" stroke="#0c1018" stroke-width="0.32">
<text x="14.58" y="26.8" stroke-width="0.12">S, Max. Principal</text>
<text x="14.58" y="38.8" stroke-width="0.12" textLength="55.64" lengthAdjust="spacingAndGlyphs">(Avg: 100%)</text>
<text x="54.22" y="52.30" text-anchor="middle">71.296</text>
<text x="54.22" y="62.05" text-anchor="middle">64.101</text>
<text x="54.22" y="71.80" text-anchor="middle">56.905</text>
<text x="54.22" y="81.55" text-anchor="middle">49.710</text>
<text x="54.22" y="91.30" text-anchor="middle">42.514</text>
<text x="54.22" y="101.05" text-anchor="middle">35.319</text>
<text x="54.22" y="110.80" text-anchor="middle">28.123</text>
<text x="54.22" y="120.55" text-anchor="middle">20.928</text>
<text x="54.22" y="130.30" text-anchor="middle">13.732</text>
<text x="54.22" y="140.05" text-anchor="middle">6.537</text>
<text x="54.22" y="149.80" text-anchor="middle">-0.659</text>
<text x="54.22" y="159.55" text-anchor="middle">-7.854</text>
<text x="54.22" y="169.30" text-anchor="middle">-15.050</text>
<text x="15.11" y="181.2" stroke-width="0.15">Max: 71.296</text>
<text x="21.33" y="193.6" stroke-width="0.15">Node: PART-1-1.4690</text>
</g>
<rect x="16.6" y="49.00" width="14.8" height="9.75" fill="#FF0000"/>
<rect x="16.6" y="58.75" width="14.8" height="9.75" fill="#FF5D00"/>
<rect x="16.6" y="68.50" width="14.8" height="9.75" fill="#FFB900"/>
<rect x="16.6" y="78.25" width="14.8" height="9.75" fill="#E8FF00"/>
<rect x="16.6" y="88.00" width="14.8" height="9.75" fill="#8BFF00"/>
<rect x="16.6" y="97.75" width="14.8" height="9.75" fill="#2EFF00"/>
<rect x="16.6" y="107.50" width="14.8" height="9.75" fill="#00FF2E"/>
<rect x="16.6" y="117.25" width="14.8" height="9.75" fill="#00FF8B"/>
<rect x="16.6" y="127.00" width="14.8" height="9.75" fill="#00FFE8"/>
<rect x="16.6" y="136.75" width="14.8" height="9.75" fill="#00B9FF"/>
<rect x="16.6" y="146.50" width="14.8" height="9.75" fill="#005DFF"/>
<rect x="16.6" y="156.25" width="14.8" height="9.75" fill="#0000FF"/>
<path d="M16.6 49.00 H35.2" stroke="#202830" stroke-width="0.7"/>
<path d="M16.6 58.75 H35.2" stroke="#202830" stroke-width="0.7"/>
<path d="M16.6 68.50 H35.2" stroke="#202830" stroke-width="0.7"/>
<path d="M16.6 78.25 H35.2" stroke="#202830" stroke-width="0.7"/>
<path d="M16.6 88.00 H35.2" stroke="#202830" stroke-width="0.7"/>
<path d="M16.6 97.75 H35.2" stroke="#202830" stroke-width="0.7"/>
<path d="M16.6 107.50 H35.2" stroke="#202830" stroke-width="0.7"/>
<path d="M16.6 117.25 H35.2" stroke="#202830" stroke-width="0.7"/>
<path d="M16.6 127.00 H35.2" stroke="#202830" stroke-width="0.7"/>
<path d="M16.6 136.75 H35.2" stroke="#202830" stroke-width="0.7"/>
<path d="M16.6 146.50 H35.2" stroke="#202830" stroke-width="0.7"/>
<path d="M16.6 156.25 H35.2" stroke="#202830" stroke-width="0.7"/>
<path d="M16.6 166.00 H35.2" stroke="#202830" stroke-width="0.7"/>
<path d="M16.6 49V166M31.4 49V166" stroke="#202830" stroke-width="0.7" fill="none"/>
<rect x="6.9" y="7.2" width="132.7" height="198.4" fill="none" stroke="#444a50" stroke-width="1.1"/>
<g font-family="'DejaVu Sans', sans-serif" font-weight="bold" font-size="9.2" fill="#111">
<text x="4" y="199.4">Z</text><text x="32.4" y="201.9">Y</text><text x="21.8" y="217">X</text></g>
<path d="M27 196.2 L19 196.6" stroke="#1a22d8" stroke-width="1.6"/>
<path d="M15.3 196.8 L20.2 194.4 L20.2 199Z" fill="#1a22d8"/>
<path d="M26.6 197 L26.6 203" stroke="#cc0c0c" stroke-width="1.6"/>
<path d="M26.6 207 L24.6 202 L28.6 202Z" fill="#cc0c0c"/>
<circle cx="29.2" cy="197" r="2" fill="#18c018"/>
</g>
<rect x="157.0" y="2.2" width="169.0" height="30.1" fill="#fff" stroke="#161616" stroke-width="1.2"/>
<text x="167.0" y="23.4" font-family="'Liberation Sans', sans-serif" font-size="17.3" fill="#0a0a0a" textLength="151.0" lengthAdjust="spacingAndGlyphs">Mesh Size = 1.5 mm</text>
</g>
<g transform="translate(670 228)">
<g clip-path="url(#cpb3)">
<path d="M63.5 -2.0 C63.1 -1.2 63.0 0.2 61.4 2.9 C59.8 5.6 57.0 8.8 54.0 14.0 C51.0 19.2 46.4 28.2 43.5 34.0 C40.6 39.8 38.2 45.2 36.4 49.0 C34.6 52.8 34.2 51.8 32.5 57.0 C30.8 62.2 27.9 71.8 26.0 80.0 C24.1 88.2 22.5 97.7 21.3 106.0 C20.1 114.3 19.4 123.5 19.0 130.0 C18.6 136.5 18.5 138.9 18.6 145.0 C18.7 151.1 18.9 159.6 19.8 166.6 C20.7 173.6 22.3 181.0 24.0 187.0 C25.7 193.0 28.5 198.2 30.0 202.6 C31.5 207.0 32.2 210.8 33.0 213.4 C33.8 216.0 34.2 217.2 34.5 218.0 L334.6 218 L334.6 -2 Z" fill="#06B8F6"/>
<path d="M87.5 -2.0 C87.0 -1.2 87.7 -1.9 84.8 2.9 C81.9 7.7 74.5 19.1 70.0 27.0 C65.5 34.9 62.6 40.2 58.0 50.0 C53.4 59.8 45.9 77.2 42.6 86.0 C39.3 94.8 39.5 96.5 38.3 103.0 C37.1 109.5 35.8 118.5 35.2 125.0 C34.6 131.5 34.5 135.1 34.6 142.0 C34.7 148.9 35.2 159.1 36.0 166.6 C36.8 174.1 38.2 181.0 39.6 187.0 C41.0 193.0 43.0 198.2 44.4 202.6 C45.8 207.0 47.1 210.8 48.0 213.4 C48.9 216.0 49.2 217.2 49.5 218.0 L334.6 218 L334.6 -2 Z" fill="#06B0F0"/>
<path d="M104.6 -2.0 C104.1 -1.2 104.8 -1.9 101.5 2.9 C98.2 7.7 89.8 19.5 85.0 27.0 C80.2 34.5 77.3 39.2 72.8 48.0 C68.3 56.8 61.5 70.8 58.0 80.0 C54.5 89.2 53.2 95.5 51.5 103.0 C49.8 110.5 48.7 118.5 48.0 125.0 C47.3 131.5 47.3 135.1 47.3 142.0 C47.3 148.9 47.3 159.1 48.0 166.6 C48.7 174.1 50.0 181.0 51.6 187.0 C53.2 193.0 55.9 198.2 57.6 202.6 C59.3 207.0 60.8 210.8 61.8 213.4 C62.8 216.0 63.2 217.2 63.5 218.0 L334.6 218 L334.6 -2 Z" fill="#08A4E2"/>
<path d="M116.0 -2.0 C115.3 -1.1 114.7 -0.5 112.0 3.2 C109.3 6.9 103.7 15.2 100.0 20.0 C96.3 24.8 93.0 27.8 90.0 32.0 C87.0 36.2 85.8 39.3 82.0 45.0 C78.2 50.7 72.2 58.8 67.0 66.0 C61.8 73.2 55.3 81.3 51.0 88.0 C46.7 94.7 43.2 99.8 41.0 106.0 C38.8 112.2 38.2 119.0 37.5 125.0 C36.8 131.0 36.6 135.1 37.0 142.0 C37.4 148.9 38.4 159.1 39.6 166.6 C40.8 174.1 42.6 180.6 44.0 187.0 C45.4 193.4 46.8 200.6 48.0 205.0 C49.2 209.4 50.2 211.2 51.0 213.4 C51.8 215.6 52.2 217.2 52.5 218.0 L334.6 218 L334.6 -2 Z" fill="#0A8CC6"/>
<path d="M140.0 -2.0 C139.0 -1.2 138.0 0.6 134.0 2.9 C130.0 5.2 122.2 7.5 116.0 12.0 C109.8 16.5 101.9 24.0 96.8 30.0 C91.7 36.0 90.4 39.7 85.4 48.0 C80.4 56.3 72.2 70.3 67.0 80.0 C61.8 89.7 56.8 98.5 54.0 106.0 C51.2 113.5 51.2 119.0 50.5 125.0 C49.8 131.0 49.6 135.1 50.0 142.0 C50.4 148.9 51.5 159.1 52.8 166.6 C54.1 174.1 55.6 180.6 58.0 187.0 C60.4 193.4 64.9 200.6 67.2 205.0 C69.5 209.4 70.8 211.2 72.0 213.4 C73.2 215.6 74.1 217.2 74.5 218.0 L334.6 218 L334.6 -2 Z" fill="#0076A4"/>
<path d="M87.5 -2.0 C87.0 -1.2 87.7 -1.9 84.8 2.9 C81.9 7.7 74.5 19.1 70.0 27.0 C65.5 34.9 62.6 40.2 58.0 50.0 C53.4 59.8 45.9 77.2 42.6 86.0 C39.3 94.8 39.5 96.5 38.3 103.0 C37.1 109.5 35.8 118.5 35.2 125.0 C34.6 131.5 34.5 135.1 34.6 142.0 C34.7 148.9 35.2 159.1 36.0 166.6 C36.8 174.1 38.2 181.0 39.6 187.0 C41.0 193.0 43.0 198.2 44.4 202.6 C45.8 207.0 47.1 210.8 48.0 213.4 C48.9 216.0 49.2 217.2 49.5 218.0" fill="none" stroke="#0A2A44" stroke-width="0.7"/>
<path d="M104.6 -2.0 C104.1 -1.2 104.8 -1.9 101.5 2.9 C98.2 7.7 89.8 19.5 85.0 27.0 C80.2 34.5 77.3 39.2 72.8 48.0 C68.3 56.8 61.5 70.8 58.0 80.0 C54.5 89.2 53.2 95.5 51.5 103.0 C49.8 110.5 48.7 118.5 48.0 125.0 C47.3 131.5 47.3 135.1 47.3 142.0 C47.3 148.9 47.3 159.1 48.0 166.6 C48.7 174.1 50.0 181.0 51.6 187.0 C53.2 193.0 55.9 198.2 57.6 202.6 C59.3 207.0 60.8 210.8 61.8 213.4 C62.8 216.0 63.2 217.2 63.5 218.0" fill="none" stroke="#0A2A44" stroke-width="0.7"/>
<path d="M162.0 128.0 C155.7 127.8 154.0 128.0 152.0 124.0 C150.0 120.0 149.7 110.3 150.0 104.0 C150.3 97.7 151.7 93.0 154.0 86.0 C156.3 79.0 159.7 69.0 164.0 62.0 C168.3 55.0 174.0 48.5 180.0 44.0 C186.0 39.5 192.3 37.0 200.0 35.0 C207.7 33.0 217.7 32.2 226.0 32.0 C234.3 31.8 242.7 32.5 250.0 34.0 C257.3 35.5 263.7 36.7 270.0 41.0 C276.3 45.3 283.5 52.8 288.0 60.0 C292.5 67.2 295.0 77.3 297.0 84.0 C299.0 90.7 299.8 95.3 300.0 100.0 C300.2 104.7 303.0 109.8 298.0 112.0 C293.0 114.2 282.0 111.8 270.0 113.0 C258.0 114.2 239.3 117.0 226.0 119.0 C212.7 121.0 200.7 123.5 190.0 125.0 C179.3 126.5 168.3 128.2 162.0 128.0Z" fill="#05A696" />
<path d="M155.5 121.0 C155.5 74.5 186.2 39.5 227.0 39.5 C266.6 39.5 296.5 70.7 296.5 112.0 Q227.0 93.5 155.5 121.0 Z" fill="#08A46C"/>
<path d="M160.0 113.0 C160.0 73.4 188.8 43.5 227.0 43.5 C264.6 43.5 293.0 71.2 293.0 108.0 Q227.0 85.5 160.0 113.0 Z" fill="#10A44C"/>
<path d="M165.0 104.0 C165.0 70.9 191.7 46.0 227.0 46.0 C262.6 46.0 289.5 69.2 289.5 100.0 Q227.0 78.0 165.0 104.0 Z" fill="#16A41C"/>
<path d="M171.0 94.0 C171.0 67.8 195.1 48.0 227.0 48.0 C260.3 48.0 285.5 66.9 285.5 92.0 Q227.0 73.0 171.0 94.0 Z" fill="#6CAE10"/>
<path d="M177.5 86.0 C177.5 65.7 198.8 50.3 227.0 50.3 C256.9 50.3 279.5 64.4 279.5 83.0 Q227.0 71.5 177.5 86.0 Z" fill="#A6AA10"/>
<path d="M185.0 74.0 C185.0 61.5 203.1 52.0 227.0 52.0 C250.7 52.0 268.5 60.2 268.5 71.0 Q227.0 69.5 185.0 74.0 Z" fill="#C48A10"/>
<path d="M191.0 69.5 C191.0 60.2 206.5 53.2 227.0 53.2 C247.2 53.2 262.5 59.1 262.5 67.0 Q227.0 65.8 191.0 69.5 Z" fill="#C4500C"/>
<path d="M197.5 65.5 C197.5 58.9 210.2 54.0 227.0 54.0 C243.8 54.0 256.5 57.9 256.5 63.0 Q227.0 61.8 197.5 65.5 Z" fill="#A81408"/>
<path d="M204.0 62.0 C204.0 57.7 213.9 54.5 227.0 54.5 C240.1 54.5 250.0 56.9 250.0 60.0 Q227.0 59.0 204.0 62.0 Z" fill="#8C0A04"/>
<path d="M157.0 149.0 L176.0 139.0 L220.0 136.0 L270.0 126.0 L286.0 133.0 L284.0 148.0 L282.0 152.0 L274.0 170.0 L270.0 178.0 L258.0 190.0 L250.0 187.0 L196.0 190.0 L190.0 196.0 L172.0 194.0 L168.0 176.0 L163.0 158.0Z" fill="#1460CC"/>
<path d="M157.0 149.0 L176.0 139.0 L220.0 136.0 L270.0 126.0 L286.0 133.0 L282.0 148.0 L274.0 153.0 L268.0 153.0 L262.0 166.0 L258.0 168.0 L250.0 155.0 L202.0 162.0 L190.0 176.0 L182.0 163.0 L170.0 164.0 L163.0 160.0Z" fill="#0A38BE"/>
<path d="M202.0 162.0 L250.0 155.0 L258.0 168.0 L262.0 166.0 L268.0 153.0 L274.0 153.0 L270.0 166.0 L258.0 180.0 L250.0 186.5 L236.0 188.0 L212.0 189.0 L196.0 186.0 L190.0 176.0Z" fill="#0410A6"/>
<path d="M285.4 125.8 L280.0 143.9 L270.5 160.1 L257.2 173.8 L240.0 183.7 L219.8 188.1 L198.9 185.0 L180.7 173.7 L168.4 156.5 L163.0 136.8 L163.6 117.2 L169.0 99.1 L178.5 82.9 L191.8 69.2 L209.0 59.3 L229.2 54.9 L250.1 58.0 L268.3 69.3 L280.6 86.5 L286.0 106.2Z" fill="none" stroke="#4c525a" stroke-width="1.0"/>
<path d="M285.4 125.8 L280.0 143.9 L270.5 160.1 L257.2 173.8 L240.0 183.7 L219.8 188.1 L198.9 185.0 L180.7 173.7 L168.4 156.5 L163.0 136.8 L163.6 117.2 L169.0 99.1 L178.5 82.9 L191.8 69.2 L209.0 59.3 L229.2 54.9 L250.1 58.0 L268.3 69.3 L280.6 86.5 L286.0 106.2Z" fill="none" stroke="#d8d8d4" stroke-width="0.7" stroke-dasharray="1.4 2.2" stroke-opacity="0.6"/>
<g font-family="'DejaVu Sans', sans-serif" font-size="8.45" fill="#E4E23C" fill-opacity="0.92">
<text x="199.8" y="124.1">3.056e+00</text>
<text x="200.6" y="124.1" opacity="0.75">4.098e+00</text>
</g>
<path d="M223.9 124.9 L258.7 119.2 L258.0 115.5 L223.5 123.1 Z" fill="#0a0cc6"/>
<path d="M268.2 115.5 L259.0 120.8 L257.7 113.9 Z" fill="#0a0cc6"/>
<path d="M223.7 124.0 V162.8" stroke="#e01c34" stroke-width="2.6"/>
<path d="M223.7 169.8 L220.0 161.3 L227.4 161.3 Z" fill="#d81c38"/>
<path d="M227.6 52.6 q2.2 1.4 -0.4 3.2" stroke="#ecd61c" fill="none" stroke-width="0.9"/>
<g font-family="'DejaVu Sans', sans-serif" font-size="8.45" fill="#E4E23C" fill-opacity="0.92">
<text x="200.0" y="180.0">4.052e+02</text>
<text x="253.0" y="117.5">3.742e+03</text>
</g>
<g transform="scale(1.125 1)" font-family="'DejaVu Sans', 'Liberation Sans', sans-serif" font-size="8.8" fill="#0c1018" stroke="#0c1018" stroke-width="0.32">
<text x="14.58" y="26.8" stroke-width="0.12">S, Max. Principal</text>
<text x="14.58" y="38.8" stroke-width="0.12" textLength="55.64" lengthAdjust="spacingAndGlyphs">(Avg: 100%)</text>
<text x="54.22" y="52.30" text-anchor="middle">52.808</text>
<text x="54.22" y="62.05" text-anchor="middle">47.475</text>
<text x="54.22" y="71.80" text-anchor="middle">42.141</text>
<text x="54.22" y="81.55" text-anchor="middle">36.808</text>
<text x="54.22" y="91.30" text-anchor="middle">31.474</text>
<text x="54.22" y="101.05" text-anchor="middle">26.140</text>
<text x="54.22" y="110.80" text-anchor="middle">20.807</text>
<text x="54.22" y="120.55" text-anchor="middle">15.473</text>
<text x="54.22" y="130.30" text-anchor="middle">10.140</text>
<text x="54.22" y="140.05" text-anchor="middle">4.806</text>
<text x="54.22" y="149.80" text-anchor="middle">-0.527</text>
<text x="54.22" y="159.55" text-anchor="middle">-5.861</text>
<text x="54.22" y="169.30" text-anchor="middle">-11.195</text>
<text x="15.11" y="181.2" stroke-width="0.15">Max: 52.808</text>
<text x="21.33" y="193.6" stroke-width="0.15">Node: PART-1-1.10</text>
</g>
<rect x="16.6" y="49.00" width="14.8" height="9.75" fill="#FF0000"/>
<rect x="16.6" y="58.75" width="14.8" height="9.75" fill="#FF5D00"/>
<rect x="16.6" y="68.50" width="14.8" height="9.75" fill="#FFB900"/>
<rect x="16.6" y="78.25" width="14.8" height="9.75" fill="#E8FF00"/>
<rect x="16.6" y="88.00" width="14.8" height="9.75" fill="#8BFF00"/>
<rect x="16.6" y="97.75" width="14.8" height="9.75" fill="#2EFF00"/>
<rect x="16.6" y="107.50" width="14.8" height="9.75" fill="#00FF2E"/>
<rect x="16.6" y="117.25" width="14.8" height="9.75" fill="#00FF8B"/>
<rect x="16.6" y="127.00" width="14.8" height="9.75" fill="#00FFE8"/>
<rect x="16.6" y="136.75" width="14.8" height="9.75" fill="#00B9FF"/>
<rect x="16.6" y="146.50" width="14.8" height="9.75" fill="#005DFF"/>
<rect x="16.6" y="156.25" width="14.8" height="9.75" fill="#0000FF"/>
<path d="M16.6 49.00 H35.2" stroke="#202830" stroke-width="0.7"/>
<path d="M16.6 58.75 H35.2" stroke="#202830" stroke-width="0.7"/>
<path d="M16.6 68.50 H35.2" stroke="#202830" stroke-width="0.7"/>
<path d="M16.6 78.25 H35.2" stroke="#202830" stroke-width="0.7"/>
<path d="M16.6 88.00 H35.2" stroke="#202830" stroke-width="0.7"/>
<path d="M16.6 97.75 H35.2" stroke="#202830" stroke-width="0.7"/>
<path d="M16.6 107.50 H35.2" stroke="#202830" stroke-width="0.7"/>
<path d="M16.6 117.25 H35.2" stroke="#202830" stroke-width="0.7"/>
<path d="M16.6 127.00 H35.2" stroke="#202830" stroke-width="0.7"/>
<path d="M16.6 136.75 H35.2" stroke="#202830" stroke-width="0.7"/>
<path d="M16.6 146.50 H35.2" stroke="#202830" stroke-width="0.7"/>
<path d="M16.6 156.25 H35.2" stroke="#202830" stroke-width="0.7"/>
<path d="M16.6 166.00 H35.2" stroke="#202830" stroke-width="0.7"/>
<path d="M16.6 49V166M31.4 49V166" stroke="#202830" stroke-width="0.7" fill="none"/>
<rect x="6.9" y="7.2" width="121.1" height="198.4" fill="none" stroke="#444a50" stroke-width="1.1"/>
<g font-family="'DejaVu Sans', sans-serif" font-weight="bold" font-size="9.2" fill="#111">
<text x="4" y="199.4">Z</text><text x="32.4" y="201.9">Y</text><text x="21.8" y="217">X</text></g>
<path d="M27 196.2 L19 196.6" stroke="#1a22d8" stroke-width="1.6"/>
<path d="M15.3 196.8 L20.2 194.4 L20.2 199Z" fill="#1a22d8"/>
<path d="M26.6 197 L26.6 203" stroke="#cc0c0c" stroke-width="1.6"/>
<path d="M26.6 207 L24.6 202 L28.6 202Z" fill="#cc0c0c"/>
<circle cx="29.2" cy="197" r="2" fill="#18c018"/>
</g>
<rect x="171.0" y="2.2" width="154.6" height="30.1" fill="#fff" stroke="#161616" stroke-width="1.2"/>
<text x="181.0" y="23.4" font-family="'Liberation Sans', sans-serif" font-size="17.3" fill="#0a0a0a" textLength="136.6" lengthAdjust="spacingAndGlyphs">Mesh Size = 3 mm</text>
</g>
</svg></body></html>
